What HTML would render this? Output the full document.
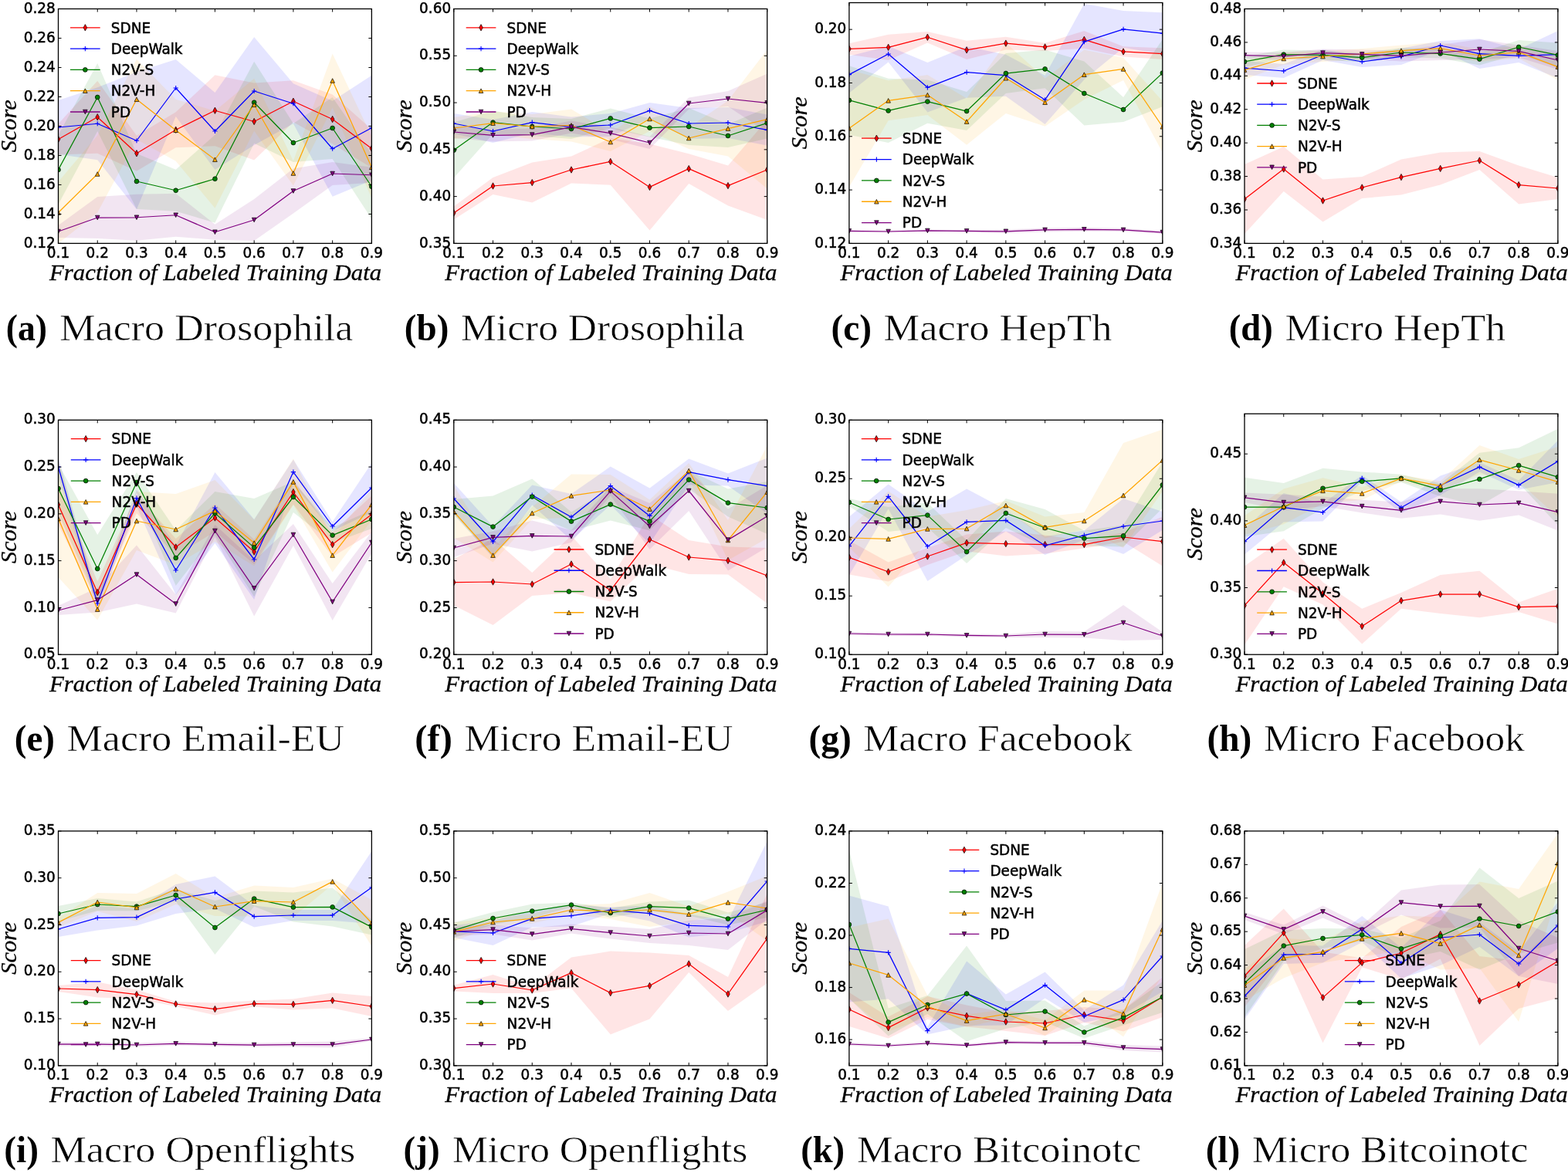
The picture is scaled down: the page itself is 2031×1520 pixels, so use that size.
<!DOCTYPE html>
<html><head><meta charset="utf-8"><style>
html,body{margin:0;padding:0;background:#fff;}
svg{display:block;}
.t{font-family:"DejaVu Sans",sans-serif;font-size:18.45px;fill:#000;stroke:#000;stroke-width:0.5px;}
.ax{font-family:"Liberation Serif",serif;font-style:italic;font-size:30px;fill:#000;stroke:#000;stroke-width:0.3px;}
.cap{font-family:"Liberation Serif",serif;font-size:48px;fill:#000;stroke:#fff;stroke-width:0.6px;}
.capb{font-family:"Liberation Serif",serif;font-size:48px;font-weight:bold;fill:#000;}
</style></head><body>
<svg width="2031" height="1520" viewBox="0 0 2031 1520">
<rect width="2031" height="1520" fill="#fff"/>
<clipPath id="clipa"><rect x="75.5" y="11.5" width="405.9" height="303.9"/></clipPath>
<g clip-path="url(#clipa)">
<path d="M75.5 160.5L126.24 104.75L176.97 175.75L227.71 145.25L278.45 97.25L329.19 107.5L379.92 104.25L430.66 122.5L481.4 167.5L481.4 217.5L430.66 186.5L379.92 158.25L329.19 207.5L278.45 189.25L227.71 191.25L176.97 221.75L126.24 198.75L75.5 200.5Z" fill="#ff0000" fill-opacity="0.1"/>
<path d="M75.5 130L126.24 113.25L176.97 93.25L227.71 77L278.45 120L329.19 48L379.92 108.25L430.66 130.75L481.4 97.75L481.4 233.75L430.66 254.75L379.92 160.25L329.19 188L278.45 220L227.71 151L176.97 271.25L126.24 207.25L75.5 200Z" fill="#0000ff" fill-opacity="0.1"/>
<path d="M75.5 175L126.24 82L176.97 199L227.71 219.75L278.45 174.75L329.19 79.75L379.92 160L430.66 126L481.4 199.75L481.4 283.75L430.66 206L379.92 210L329.19 185.75L278.45 288.75L227.71 273.75L176.97 271L126.24 170L75.5 265Z" fill="#008000" fill-opacity="0.1"/>
<path d="M75.5 235.5L126.24 175.5L176.97 76.75L227.71 128.75L278.45 143.75L329.19 101.75L379.92 208.5L430.66 69.5L481.4 176.75L481.4 256.75L430.66 139.5L379.92 240.5L329.19 169.75L278.45 269.75L227.71 208.75L176.97 180.75L126.24 275.5L75.5 315.5Z" fill="#ffa500" fill-opacity="0.1"/>
<path d="M75.5 292L126.24 255L176.97 251.75L227.71 250.75L278.45 290.75L329.19 258L379.92 218.5L430.66 210L481.4 216.75L481.4 236.75L430.66 240L379.92 276.5L329.19 312L278.45 310.75L227.71 306.75L176.97 311.75L126.24 309L75.5 308Z" fill="#800080" fill-opacity="0.1"/>
<path d="M75.5 180.5L126.24 151.75L176.97 198.75L227.71 168.25L278.45 143.25L329.19 157.5L379.92 131.25L430.66 154.5L481.4 192.5" fill="none" stroke="#ff0000" stroke-width="1.25" stroke-linejoin="round"/>
<path d="M75.5 176.3L77.8 180.5L75.5 184.7L73.2 180.5Z" fill="#ff0000" stroke="#000" stroke-width="0.7"/>
<path d="M126.24 147.55L128.54 151.75L126.24 155.95L123.94 151.75Z" fill="#ff0000" stroke="#000" stroke-width="0.7"/>
<path d="M176.97 194.55L179.28 198.75L176.97 202.95L174.67 198.75Z" fill="#ff0000" stroke="#000" stroke-width="0.7"/>
<path d="M227.71 164.05L230.01 168.25L227.71 172.45L225.41 168.25Z" fill="#ff0000" stroke="#000" stroke-width="0.7"/>
<path d="M278.45 139.05L280.75 143.25L278.45 147.45L276.15 143.25Z" fill="#ff0000" stroke="#000" stroke-width="0.7"/>
<path d="M329.19 153.3L331.49 157.5L329.19 161.7L326.89 157.5Z" fill="#ff0000" stroke="#000" stroke-width="0.7"/>
<path d="M379.92 127.05L382.22 131.25L379.92 135.45L377.62 131.25Z" fill="#ff0000" stroke="#000" stroke-width="0.7"/>
<path d="M430.66 150.3L432.96 154.5L430.66 158.7L428.36 154.5Z" fill="#ff0000" stroke="#000" stroke-width="0.7"/>
<path d="M481.4 188.3L483.7 192.5L481.4 196.7L479.1 192.5Z" fill="#ff0000" stroke="#000" stroke-width="0.7"/>
<path d="M75.5 165L126.24 160.25L176.97 182.25L227.71 114L278.45 170L329.19 118L379.92 134.25L430.66 192.75L481.4 165.75" fill="none" stroke="#0000ff" stroke-width="1.25" stroke-linejoin="round"/>
<path d="M72.4 165H78.6M75.5 161.9V168.1" stroke="#0000ff" stroke-width="1.1" fill="none"/>
<path d="M123.14 160.25H129.34M126.24 157.15V163.35" stroke="#0000ff" stroke-width="1.1" fill="none"/>
<path d="M173.88 182.25H180.07M176.97 179.15V185.35" stroke="#0000ff" stroke-width="1.1" fill="none"/>
<path d="M224.61 114H230.81M227.71 110.9V117.1" stroke="#0000ff" stroke-width="1.1" fill="none"/>
<path d="M275.35 170H281.55M278.45 166.9V173.1" stroke="#0000ff" stroke-width="1.1" fill="none"/>
<path d="M326.09 118H332.29M329.19 114.9V121.1" stroke="#0000ff" stroke-width="1.1" fill="none"/>
<path d="M376.82 134.25H383.02M379.92 131.15V137.35" stroke="#0000ff" stroke-width="1.1" fill="none"/>
<path d="M427.56 192.75H433.76M430.66 189.65V195.85" stroke="#0000ff" stroke-width="1.1" fill="none"/>
<path d="M478.3 165.75H484.5M481.4 162.65V168.85" stroke="#0000ff" stroke-width="1.1" fill="none"/>
<path d="M75.5 220L126.24 126L176.97 235L227.71 246.75L278.45 231.75L329.19 132.75L379.92 185L430.66 166L481.4 241.75" fill="none" stroke="#008000" stroke-width="1.25" stroke-linejoin="round"/>
<circle cx="75.5" cy="220" r="2.9" fill="#008000" stroke="#000" stroke-width="0.7"/>
<circle cx="126.24" cy="126" r="2.9" fill="#008000" stroke="#000" stroke-width="0.7"/>
<circle cx="176.97" cy="235" r="2.9" fill="#008000" stroke="#000" stroke-width="0.7"/>
<circle cx="227.71" cy="246.75" r="2.9" fill="#008000" stroke="#000" stroke-width="0.7"/>
<circle cx="278.45" cy="231.75" r="2.9" fill="#008000" stroke="#000" stroke-width="0.7"/>
<circle cx="329.19" cy="132.75" r="2.9" fill="#008000" stroke="#000" stroke-width="0.7"/>
<circle cx="379.92" cy="185" r="2.9" fill="#008000" stroke="#000" stroke-width="0.7"/>
<circle cx="430.66" cy="166" r="2.9" fill="#008000" stroke="#000" stroke-width="0.7"/>
<circle cx="481.4" cy="241.75" r="2.9" fill="#008000" stroke="#000" stroke-width="0.7"/>
<path d="M75.5 275.5L126.24 225.5L176.97 128.75L227.71 168.75L278.45 206.75L329.19 135.75L379.92 224.5L430.66 104.5L481.4 216.75" fill="none" stroke="#ffa500" stroke-width="1.25" stroke-linejoin="round"/>
<path d="M75.5 272.7L78.3 278.3L72.7 278.3Z" fill="#ffa500" stroke="#000" stroke-width="0.7"/>
<path d="M126.24 222.7L129.04 228.3L123.44 228.3Z" fill="#ffa500" stroke="#000" stroke-width="0.7"/>
<path d="M176.97 125.95L179.78 131.55L174.17 131.55Z" fill="#ffa500" stroke="#000" stroke-width="0.7"/>
<path d="M227.71 165.95L230.51 171.55L224.91 171.55Z" fill="#ffa500" stroke="#000" stroke-width="0.7"/>
<path d="M278.45 203.95L281.25 209.55L275.65 209.55Z" fill="#ffa500" stroke="#000" stroke-width="0.7"/>
<path d="M329.19 132.95L331.99 138.55L326.39 138.55Z" fill="#ffa500" stroke="#000" stroke-width="0.7"/>
<path d="M379.92 221.7L382.72 227.3L377.12 227.3Z" fill="#ffa500" stroke="#000" stroke-width="0.7"/>
<path d="M430.66 101.7L433.46 107.3L427.86 107.3Z" fill="#ffa500" stroke="#000" stroke-width="0.7"/>
<path d="M481.4 213.95L484.2 219.55L478.6 219.55Z" fill="#ffa500" stroke="#000" stroke-width="0.7"/>
<path d="M75.5 300L126.24 282L176.97 281.75L227.71 278.75L278.45 300.75L329.19 285L379.92 247.5L430.66 225L481.4 226.75" fill="none" stroke="#800080" stroke-width="1.25" stroke-linejoin="round"/>
<path d="M75.5 302.8L78.3 297.2L72.7 297.2Z" fill="#800080" stroke="#000" stroke-width="0.7"/>
<path d="M126.24 284.8L129.04 279.2L123.44 279.2Z" fill="#800080" stroke="#000" stroke-width="0.7"/>
<path d="M176.97 284.55L179.78 278.95L174.17 278.95Z" fill="#800080" stroke="#000" stroke-width="0.7"/>
<path d="M227.71 281.55L230.51 275.95L224.91 275.95Z" fill="#800080" stroke="#000" stroke-width="0.7"/>
<path d="M278.45 303.55L281.25 297.95L275.65 297.95Z" fill="#800080" stroke="#000" stroke-width="0.7"/>
<path d="M329.19 287.8L331.99 282.2L326.39 282.2Z" fill="#800080" stroke="#000" stroke-width="0.7"/>
<path d="M379.92 250.3L382.72 244.7L377.12 244.7Z" fill="#800080" stroke="#000" stroke-width="0.7"/>
<path d="M430.66 227.8L433.46 222.2L427.86 222.2Z" fill="#800080" stroke="#000" stroke-width="0.7"/>
<path d="M481.4 229.55L484.2 223.95L478.6 223.95Z" fill="#800080" stroke="#000" stroke-width="0.7"/>
</g>
<path d="M91 35.8H129.7" stroke="#ff0000" stroke-width="1.3"/>
<path d="M110.35 31.6L112.65 35.8L110.35 40L108.05 35.8Z" fill="#ff0000" stroke="#000" stroke-width="0.7"/>
<text transform="translate(143.8,42.5) scale(1,1.035)" class="t">SDNE</text>
<path d="M91 63.1H129.7" stroke="#0000ff" stroke-width="1.3"/>
<path d="M107.25 63.1H113.45M110.35 60V66.2" stroke="#0000ff" stroke-width="1.1" fill="none"/>
<text transform="translate(143.8,69.8) scale(1,1.035)" class="t">DeepWalk</text>
<path d="M91 90.4H129.7" stroke="#008000" stroke-width="1.3"/>
<circle cx="110.35" cy="90.4" r="2.9" fill="#008000" stroke="#000" stroke-width="0.7"/>
<text transform="translate(143.8,97.1) scale(1,1.035)" class="t">N2V-S</text>
<path d="M91 117.7H129.7" stroke="#ffa500" stroke-width="1.3"/>
<path d="M110.35 114.9L113.15 120.5L107.55 120.5Z" fill="#ffa500" stroke="#000" stroke-width="0.7"/>
<text transform="translate(143.8,124.4) scale(1,1.035)" class="t">N2V-H</text>
<path d="M91 145H129.7" stroke="#800080" stroke-width="1.3"/>
<path d="M110.35 147.8L113.15 142.2L107.55 142.2Z" fill="#800080" stroke="#000" stroke-width="0.7"/>
<text transform="translate(143.8,151.7) scale(1,1.035)" class="t">PD</text>
<rect x="75.5" y="11.5" width="405.9" height="303.9" fill="none" stroke="#000" stroke-width="1.3"/>
<text transform="translate(71.85,320.5) scale(1,1.035)" class="t" text-anchor="end">0.12</text>
<text transform="translate(71.85,282.51) scale(1,1.035)" class="t" text-anchor="end">0.14</text>
<text transform="translate(71.85,244.52) scale(1,1.035)" class="t" text-anchor="end">0.16</text>
<text transform="translate(71.85,206.54) scale(1,1.035)" class="t" text-anchor="end">0.18</text>
<text transform="translate(71.85,168.55) scale(1,1.035)" class="t" text-anchor="end">0.20</text>
<text transform="translate(71.85,130.56) scale(1,1.035)" class="t" text-anchor="end">0.22</text>
<text transform="translate(71.85,92.58) scale(1,1.035)" class="t" text-anchor="end">0.24</text>
<text transform="translate(71.85,54.59) scale(1,1.035)" class="t" text-anchor="end">0.26</text>
<text transform="translate(71.85,16.6) scale(1,1.035)" class="t" text-anchor="end">0.28</text>
<path d="M75.5 315.4V311.4M75.5 11.5V15.5M126.24 315.4V311.4M126.24 11.5V15.5M176.97 315.4V311.4M176.97 11.5V15.5M227.71 315.4V311.4M227.71 11.5V15.5M278.45 315.4V311.4M278.45 11.5V15.5M329.19 315.4V311.4M329.19 11.5V15.5M379.92 315.4V311.4M379.92 11.5V15.5M430.66 315.4V311.4M430.66 11.5V15.5M481.4 315.4V311.4M481.4 11.5V15.5M75.5 315.4H79.5M481.4 315.4H477.4M75.5 277.41H79.5M481.4 277.41H477.4M75.5 239.42H79.5M481.4 239.42H477.4M75.5 201.44H79.5M481.4 201.44H477.4M75.5 163.45H79.5M481.4 163.45H477.4M75.5 125.46H79.5M481.4 125.46H477.4M75.5 87.48H79.5M481.4 87.48H477.4M75.5 49.49H79.5M481.4 49.49H477.4M75.5 11.5H79.5M481.4 11.5H477.4" stroke="#000" stroke-width="1.0" fill="none"/>
<text transform="translate(75.5,333.9) scale(1,1.035)" class="t" text-anchor="middle">0.1</text>
<text transform="translate(126.24,333.9) scale(1,1.035)" class="t" text-anchor="middle">0.2</text>
<text transform="translate(176.97,333.9) scale(1,1.035)" class="t" text-anchor="middle">0.3</text>
<text transform="translate(227.71,333.9) scale(1,1.035)" class="t" text-anchor="middle">0.4</text>
<text transform="translate(278.45,333.9) scale(1,1.035)" class="t" text-anchor="middle">0.5</text>
<text transform="translate(329.19,333.9) scale(1,1.035)" class="t" text-anchor="middle">0.6</text>
<text transform="translate(379.92,333.9) scale(1,1.035)" class="t" text-anchor="middle">0.7</text>
<text transform="translate(430.66,333.9) scale(1,1.035)" class="t" text-anchor="middle">0.8</text>
<text transform="translate(481.4,333.9) scale(1,1.035)" class="t" text-anchor="middle">0.9</text>
<text x="64.02" y="362.7" class="ax" textLength="430.24" lengthAdjust="spacingAndGlyphs">Fraction of Labeled Training Data</text>
<text x="-0.35" y="0" class="ax" textLength="67.92" lengthAdjust="spacingAndGlyphs" transform="translate(20.7,196.9) rotate(-90)">Score</text>
<text x="7.79" y="441.2" class="capb" textLength="53.32" lengthAdjust="spacingAndGlyphs">(a)</text>
<text x="77.3" y="441.2" class="cap" textLength="380.11" lengthAdjust="spacingAndGlyphs">Macro Drosophila</text>
<clipPath id="clipb"><rect x="587.8" y="11.5" width="405.9" height="303.9"/></clipPath>
<g clip-path="url(#clipb)">
<path d="M587.8 267.4L638.54 230L689.27 210.6L740.01 202.6L790.75 179L841.49 186.4L892.22 199.2L942.96 214.6L993.7 155L993.7 285L942.96 266.6L892.22 238L841.49 298.4L790.75 239.8L740.01 237.4L689.27 262.6L638.54 252L587.8 284.6Z" fill="#ff0000" fill-opacity="0.1"/>
<path d="M587.8 147L638.54 155L689.27 145L740.01 151.6L790.75 147L841.49 133L892.22 140L942.96 139L993.7 148.4L993.7 188.4L942.96 179L892.22 180L841.49 153.8L790.75 177L740.01 177.6L689.27 172.2L638.54 185L587.8 173Z" fill="#0000ff" fill-opacity="0.1"/>
<path d="M587.8 158.6L638.54 143.6L689.27 152L740.01 154L790.75 140.4L841.49 153.6L892.22 140L942.96 161L993.7 139.4L993.7 179.4L942.96 191L892.22 188L841.49 177.6L790.75 166.4L740.01 180L689.27 176L638.54 173.6L587.8 230.6Z" fill="#008000" fill-opacity="0.1"/>
<path d="M587.8 152L638.54 144.6L689.27 148L740.01 141.4L790.75 172L841.49 138L892.22 165L942.96 130.6L993.7 64.6L993.7 244.6L942.96 202.6L892.22 193L841.49 170L790.75 196L740.01 183.4L689.27 180L638.54 174.6L587.8 180Z" fill="#ffa500" fill-opacity="0.1"/>
<path d="M587.8 163L638.54 167.4L689.27 166.6L740.01 156.6L790.75 164.6L841.49 177L892.22 126.6L942.96 118L993.7 95.4L993.7 171.4L942.96 138L892.22 141.4L841.49 193L790.75 180.6L740.01 172.6L689.27 182.6L638.54 183.4L587.8 179Z" fill="#800080" fill-opacity="0.1"/>
<path d="M587.8 276L638.54 241L689.27 236.6L740.01 220L790.75 209.4L841.49 242.4L892.22 218.6L942.96 240.6L993.7 220" fill="none" stroke="#ff0000" stroke-width="1.25" stroke-linejoin="round"/>
<path d="M587.8 271.8L590.1 276L587.8 280.2L585.5 276Z" fill="#ff0000" stroke="#000" stroke-width="0.7"/>
<path d="M638.54 236.8L640.84 241L638.54 245.2L636.24 241Z" fill="#ff0000" stroke="#000" stroke-width="0.7"/>
<path d="M689.27 232.4L691.57 236.6L689.27 240.8L686.98 236.6Z" fill="#ff0000" stroke="#000" stroke-width="0.7"/>
<path d="M740.01 215.8L742.31 220L740.01 224.2L737.71 220Z" fill="#ff0000" stroke="#000" stroke-width="0.7"/>
<path d="M790.75 205.2L793.05 209.4L790.75 213.6L788.45 209.4Z" fill="#ff0000" stroke="#000" stroke-width="0.7"/>
<path d="M841.49 238.2L843.79 242.4L841.49 246.6L839.19 242.4Z" fill="#ff0000" stroke="#000" stroke-width="0.7"/>
<path d="M892.22 214.4L894.52 218.6L892.22 222.8L889.92 218.6Z" fill="#ff0000" stroke="#000" stroke-width="0.7"/>
<path d="M942.96 236.4L945.26 240.6L942.96 244.8L940.66 240.6Z" fill="#ff0000" stroke="#000" stroke-width="0.7"/>
<path d="M993.7 215.8L996 220L993.7 224.2L991.4 220Z" fill="#ff0000" stroke="#000" stroke-width="0.7"/>
<path d="M587.8 160L638.54 170L689.27 158.6L740.01 164.6L790.75 162L841.49 143.4L892.22 160L942.96 159L993.7 168.4" fill="none" stroke="#0000ff" stroke-width="1.25" stroke-linejoin="round"/>
<path d="M584.7 160H590.9M587.8 156.9V163.1" stroke="#0000ff" stroke-width="1.1" fill="none"/>
<path d="M635.44 170H641.64M638.54 166.9V173.1" stroke="#0000ff" stroke-width="1.1" fill="none"/>
<path d="M686.17 158.6H692.38M689.27 155.5V161.7" stroke="#0000ff" stroke-width="1.1" fill="none"/>
<path d="M736.91 164.6H743.11M740.01 161.5V167.7" stroke="#0000ff" stroke-width="1.1" fill="none"/>
<path d="M787.65 162H793.85M790.75 158.9V165.1" stroke="#0000ff" stroke-width="1.1" fill="none"/>
<path d="M838.39 143.4H844.59M841.49 140.3V146.5" stroke="#0000ff" stroke-width="1.1" fill="none"/>
<path d="M889.12 160H895.32M892.22 156.9V163.1" stroke="#0000ff" stroke-width="1.1" fill="none"/>
<path d="M939.86 159H946.06M942.96 155.9V162.1" stroke="#0000ff" stroke-width="1.1" fill="none"/>
<path d="M990.6 168.4H996.8M993.7 165.3V171.5" stroke="#0000ff" stroke-width="1.1" fill="none"/>
<path d="M587.8 194.6L638.54 158.6L689.27 164L740.01 167L790.75 153.4L841.49 165.6L892.22 164L942.96 176L993.7 159.4" fill="none" stroke="#008000" stroke-width="1.25" stroke-linejoin="round"/>
<circle cx="587.8" cy="194.6" r="2.9" fill="#008000" stroke="#000" stroke-width="0.7"/>
<circle cx="638.54" cy="158.6" r="2.9" fill="#008000" stroke="#000" stroke-width="0.7"/>
<circle cx="689.27" cy="164" r="2.9" fill="#008000" stroke="#000" stroke-width="0.7"/>
<circle cx="740.01" cy="167" r="2.9" fill="#008000" stroke="#000" stroke-width="0.7"/>
<circle cx="790.75" cy="153.4" r="2.9" fill="#008000" stroke="#000" stroke-width="0.7"/>
<circle cx="841.49" cy="165.6" r="2.9" fill="#008000" stroke="#000" stroke-width="0.7"/>
<circle cx="892.22" cy="164" r="2.9" fill="#008000" stroke="#000" stroke-width="0.7"/>
<circle cx="942.96" cy="176" r="2.9" fill="#008000" stroke="#000" stroke-width="0.7"/>
<circle cx="993.7" cy="159.4" r="2.9" fill="#008000" stroke="#000" stroke-width="0.7"/>
<path d="M587.8 166L638.54 159.6L689.27 164L740.01 162.4L790.75 184L841.49 154L892.22 179L942.96 166.6L993.7 154.6" fill="none" stroke="#ffa500" stroke-width="1.25" stroke-linejoin="round"/>
<path d="M587.8 163.2L590.6 168.8L585 168.8Z" fill="#ffa500" stroke="#000" stroke-width="0.7"/>
<path d="M638.54 156.8L641.34 162.4L635.74 162.4Z" fill="#ffa500" stroke="#000" stroke-width="0.7"/>
<path d="M689.27 161.2L692.07 166.8L686.48 166.8Z" fill="#ffa500" stroke="#000" stroke-width="0.7"/>
<path d="M740.01 159.6L742.81 165.2L737.21 165.2Z" fill="#ffa500" stroke="#000" stroke-width="0.7"/>
<path d="M790.75 181.2L793.55 186.8L787.95 186.8Z" fill="#ffa500" stroke="#000" stroke-width="0.7"/>
<path d="M841.49 151.2L844.29 156.8L838.69 156.8Z" fill="#ffa500" stroke="#000" stroke-width="0.7"/>
<path d="M892.22 176.2L895.02 181.8L889.42 181.8Z" fill="#ffa500" stroke="#000" stroke-width="0.7"/>
<path d="M942.96 163.8L945.76 169.4L940.16 169.4Z" fill="#ffa500" stroke="#000" stroke-width="0.7"/>
<path d="M993.7 151.8L996.5 157.4L990.9 157.4Z" fill="#ffa500" stroke="#000" stroke-width="0.7"/>
<path d="M587.8 171L638.54 175.4L689.27 174.6L740.01 164.6L790.75 172.6L841.49 185L892.22 134L942.96 128L993.7 133.4" fill="none" stroke="#800080" stroke-width="1.25" stroke-linejoin="round"/>
<path d="M587.8 173.8L590.6 168.2L585 168.2Z" fill="#800080" stroke="#000" stroke-width="0.7"/>
<path d="M638.54 178.2L641.34 172.6L635.74 172.6Z" fill="#800080" stroke="#000" stroke-width="0.7"/>
<path d="M689.27 177.4L692.07 171.8L686.48 171.8Z" fill="#800080" stroke="#000" stroke-width="0.7"/>
<path d="M740.01 167.4L742.81 161.8L737.21 161.8Z" fill="#800080" stroke="#000" stroke-width="0.7"/>
<path d="M790.75 175.4L793.55 169.8L787.95 169.8Z" fill="#800080" stroke="#000" stroke-width="0.7"/>
<path d="M841.49 187.8L844.29 182.2L838.69 182.2Z" fill="#800080" stroke="#000" stroke-width="0.7"/>
<path d="M892.22 136.8L895.02 131.2L889.42 131.2Z" fill="#800080" stroke="#000" stroke-width="0.7"/>
<path d="M942.96 130.8L945.76 125.2L940.16 125.2Z" fill="#800080" stroke="#000" stroke-width="0.7"/>
<path d="M993.7 136.2L996.5 130.6L990.9 130.6Z" fill="#800080" stroke="#000" stroke-width="0.7"/>
</g>
<path d="M603.7 35.8H642.4" stroke="#ff0000" stroke-width="1.3"/>
<path d="M623.05 31.6L625.35 35.8L623.05 40L620.75 35.8Z" fill="#ff0000" stroke="#000" stroke-width="0.7"/>
<text transform="translate(656.5,42.5) scale(1,1.035)" class="t">SDNE</text>
<path d="M603.7 63.1H642.4" stroke="#0000ff" stroke-width="1.3"/>
<path d="M619.95 63.1H626.15M623.05 60V66.2" stroke="#0000ff" stroke-width="1.1" fill="none"/>
<text transform="translate(656.5,69.8) scale(1,1.035)" class="t">DeepWalk</text>
<path d="M603.7 90.4H642.4" stroke="#008000" stroke-width="1.3"/>
<circle cx="623.05" cy="90.4" r="2.9" fill="#008000" stroke="#000" stroke-width="0.7"/>
<text transform="translate(656.5,97.1) scale(1,1.035)" class="t">N2V-S</text>
<path d="M603.7 117.7H642.4" stroke="#ffa500" stroke-width="1.3"/>
<path d="M623.05 114.9L625.85 120.5L620.25 120.5Z" fill="#ffa500" stroke="#000" stroke-width="0.7"/>
<text transform="translate(656.5,124.4) scale(1,1.035)" class="t">N2V-H</text>
<path d="M603.7 145H642.4" stroke="#800080" stroke-width="1.3"/>
<path d="M623.05 147.8L625.85 142.2L620.25 142.2Z" fill="#800080" stroke="#000" stroke-width="0.7"/>
<text transform="translate(656.5,151.7) scale(1,1.035)" class="t">PD</text>
<rect x="587.8" y="11.5" width="405.9" height="303.9" fill="none" stroke="#000" stroke-width="1.3"/>
<text transform="translate(584.15,320.5) scale(1,1.035)" class="t" text-anchor="end">0.35</text>
<text transform="translate(584.15,259.72) scale(1,1.035)" class="t" text-anchor="end">0.40</text>
<text transform="translate(584.15,198.94) scale(1,1.035)" class="t" text-anchor="end">0.45</text>
<text transform="translate(584.15,138.16) scale(1,1.035)" class="t" text-anchor="end">0.50</text>
<text transform="translate(584.15,77.38) scale(1,1.035)" class="t" text-anchor="end">0.55</text>
<text transform="translate(584.15,16.6) scale(1,1.035)" class="t" text-anchor="end">0.60</text>
<path d="M587.8 315.4V311.4M587.8 11.5V15.5M638.54 315.4V311.4M638.54 11.5V15.5M689.27 315.4V311.4M689.27 11.5V15.5M740.01 315.4V311.4M740.01 11.5V15.5M790.75 315.4V311.4M790.75 11.5V15.5M841.49 315.4V311.4M841.49 11.5V15.5M892.22 315.4V311.4M892.22 11.5V15.5M942.96 315.4V311.4M942.96 11.5V15.5M993.7 315.4V311.4M993.7 11.5V15.5M587.8 315.4H591.8M993.7 315.4H989.7M587.8 254.62H591.8M993.7 254.62H989.7M587.8 193.84H591.8M993.7 193.84H989.7M587.8 133.06H591.8M993.7 133.06H989.7M587.8 72.28H591.8M993.7 72.28H989.7M587.8 11.5H591.8M993.7 11.5H989.7" stroke="#000" stroke-width="1.0" fill="none"/>
<text transform="translate(587.8,333.9) scale(1,1.035)" class="t" text-anchor="middle">0.1</text>
<text transform="translate(638.54,333.9) scale(1,1.035)" class="t" text-anchor="middle">0.2</text>
<text transform="translate(689.27,333.9) scale(1,1.035)" class="t" text-anchor="middle">0.3</text>
<text transform="translate(740.01,333.9) scale(1,1.035)" class="t" text-anchor="middle">0.4</text>
<text transform="translate(790.75,333.9) scale(1,1.035)" class="t" text-anchor="middle">0.5</text>
<text transform="translate(841.49,333.9) scale(1,1.035)" class="t" text-anchor="middle">0.6</text>
<text transform="translate(892.22,333.9) scale(1,1.035)" class="t" text-anchor="middle">0.7</text>
<text transform="translate(942.96,333.9) scale(1,1.035)" class="t" text-anchor="middle">0.8</text>
<text transform="translate(993.7,333.9) scale(1,1.035)" class="t" text-anchor="middle">0.9</text>
<text x="576.32" y="362.7" class="ax" textLength="430.24" lengthAdjust="spacingAndGlyphs">Fraction of Labeled Training Data</text>
<text x="-0.35" y="0" class="ax" textLength="67.92" lengthAdjust="spacingAndGlyphs" transform="translate(533,196.9) rotate(-90)">Score</text>
<text x="523.83" y="441.2" class="capb" textLength="57.54" lengthAdjust="spacingAndGlyphs">(b)</text>
<text x="597.02" y="441.2" class="cap" textLength="367.69" lengthAdjust="spacingAndGlyphs">Micro Drosophila</text>
<clipPath id="clipc"><rect x="1099.9" y="3.5" width="405.9" height="311.9"/></clipPath>
<g clip-path="url(#clipc)">
<path d="M1099.9 56.13L1150.64 44.7L1201.38 40.95L1252.11 52.8L1302.85 47.81L1353.59 55.71L1404.33 39.92L1455.06 60.29L1505.8 62.37L1505.8 76.93L1455.06 73.59L1404.33 62.78L1353.59 66.11L1302.85 64.45L1252.11 76.92L1201.38 55.51L1150.64 77.96L1099.9 70.69Z" fill="#ff0000" fill-opacity="0.1"/>
<path d="M1099.9 72.76L1150.64 59.66L1201.38 81.09L1252.11 60.3L1302.85 70.68L1353.59 97.71L1404.33 4.78L1455.06 13.93L1505.8 16.21L1505.8 70.27L1455.06 61.75L1404.33 103.32L1353.59 160.91L1302.85 124.74L1252.11 126.82L1201.38 145.53L1150.64 80.46L1099.9 120.58Z" fill="#0000ff" fill-opacity="0.1"/>
<path d="M1099.9 85.24L1150.64 101.87L1201.38 103.53L1252.11 119.12L1302.85 69.02L1353.59 64.45L1404.33 79.42L1455.06 125.99L1505.8 50.93L1505.8 138.25L1455.06 158.01L1404.33 162.58L1353.59 114.35L1302.85 121L1252.11 169.02L1201.38 159.67L1150.64 185.03L1099.9 174.64Z" fill="#008000" fill-opacity="0.1"/>
<path d="M1099.9 90.44L1150.64 104.36L1201.38 97.09L1252.11 127.44L1302.85 55.51L1353.59 101.45L1404.33 64.45L1455.06 74.85L1505.8 130.98L1505.8 197.5L1455.06 103.95L1404.33 128.89L1353.59 163.83L1302.85 146.99L1252.11 187.74L1201.38 149.07L1150.64 156.34L1099.9 242.2Z" fill="#ffa500" fill-opacity="0.1"/>
<path d="M1099.9 298.13L1150.64 298.75L1201.38 297.71L1252.11 297.72L1302.85 297.3L1353.59 295.43L1404.33 294.81L1455.06 295.84L1505.8 298.96L1505.8 303.12L1455.06 300L1404.33 299.79L1353.59 300.41L1302.85 302.28L1252.11 301.04L1201.38 300.21L1150.64 301.25L1099.9 300.63Z" fill="#800080" fill-opacity="0.1"/>
<path d="M1099.9 63.41L1150.64 61.33L1201.38 48.23L1252.11 64.86L1302.85 56.13L1353.59 60.91L1404.33 51.35L1455.06 66.94L1505.8 69.65" fill="none" stroke="#ff0000" stroke-width="1.25" stroke-linejoin="round"/>
<path d="M1099.9 59.21L1102.2 63.41L1099.9 67.61L1097.6 63.41Z" fill="#ff0000" stroke="#000" stroke-width="0.7"/>
<path d="M1150.64 57.13L1152.94 61.33L1150.64 65.53L1148.34 61.33Z" fill="#ff0000" stroke="#000" stroke-width="0.7"/>
<path d="M1201.38 44.03L1203.67 48.23L1201.38 52.43L1199.08 48.23Z" fill="#ff0000" stroke="#000" stroke-width="0.7"/>
<path d="M1252.11 60.66L1254.41 64.86L1252.11 69.06L1249.81 64.86Z" fill="#ff0000" stroke="#000" stroke-width="0.7"/>
<path d="M1302.85 51.93L1305.15 56.13L1302.85 60.33L1300.55 56.13Z" fill="#ff0000" stroke="#000" stroke-width="0.7"/>
<path d="M1353.59 56.71L1355.89 60.91L1353.59 65.11L1351.29 60.91Z" fill="#ff0000" stroke="#000" stroke-width="0.7"/>
<path d="M1404.33 47.15L1406.62 51.35L1404.33 55.55L1402.03 51.35Z" fill="#ff0000" stroke="#000" stroke-width="0.7"/>
<path d="M1455.06 62.74L1457.36 66.94L1455.06 71.14L1452.76 66.94Z" fill="#ff0000" stroke="#000" stroke-width="0.7"/>
<path d="M1505.8 65.45L1508.1 69.65L1505.8 73.85L1503.5 69.65Z" fill="#ff0000" stroke="#000" stroke-width="0.7"/>
<path d="M1099.9 96.67L1150.64 70.06L1201.38 113.31L1252.11 93.56L1302.85 97.71L1353.59 129.31L1404.33 54.05L1455.06 37.84L1505.8 43.24" fill="none" stroke="#0000ff" stroke-width="1.25" stroke-linejoin="round"/>
<path d="M1096.8 96.67H1103M1099.9 93.57V99.77" stroke="#0000ff" stroke-width="1.1" fill="none"/>
<path d="M1147.54 70.06H1153.74M1150.64 66.96V73.16" stroke="#0000ff" stroke-width="1.1" fill="none"/>
<path d="M1198.28 113.31H1204.47M1201.38 110.21V116.41" stroke="#0000ff" stroke-width="1.1" fill="none"/>
<path d="M1249.01 93.56H1255.21M1252.11 90.46V96.66" stroke="#0000ff" stroke-width="1.1" fill="none"/>
<path d="M1299.75 97.71H1305.95M1302.85 94.61V100.81" stroke="#0000ff" stroke-width="1.1" fill="none"/>
<path d="M1350.49 129.31H1356.69M1353.59 126.21V132.41" stroke="#0000ff" stroke-width="1.1" fill="none"/>
<path d="M1401.23 54.05H1407.42M1404.33 50.95V57.15" stroke="#0000ff" stroke-width="1.1" fill="none"/>
<path d="M1451.96 37.84H1458.16M1455.06 34.74V40.94" stroke="#0000ff" stroke-width="1.1" fill="none"/>
<path d="M1502.7 43.24H1508.9M1505.8 40.14V46.34" stroke="#0000ff" stroke-width="1.1" fill="none"/>
<path d="M1099.9 129.94L1150.64 143.45L1201.38 131.6L1252.11 144.07L1302.85 95.01L1353.59 89.4L1404.33 121L1455.06 142L1505.8 94.59" fill="none" stroke="#008000" stroke-width="1.25" stroke-linejoin="round"/>
<circle cx="1099.9" cy="129.94" r="2.9" fill="#008000" stroke="#000" stroke-width="0.7"/>
<circle cx="1150.64" cy="143.45" r="2.9" fill="#008000" stroke="#000" stroke-width="0.7"/>
<circle cx="1201.38" cy="131.6" r="2.9" fill="#008000" stroke="#000" stroke-width="0.7"/>
<circle cx="1252.11" cy="144.07" r="2.9" fill="#008000" stroke="#000" stroke-width="0.7"/>
<circle cx="1302.85" cy="95.01" r="2.9" fill="#008000" stroke="#000" stroke-width="0.7"/>
<circle cx="1353.59" cy="89.4" r="2.9" fill="#008000" stroke="#000" stroke-width="0.7"/>
<circle cx="1404.33" cy="121" r="2.9" fill="#008000" stroke="#000" stroke-width="0.7"/>
<circle cx="1455.06" cy="142" r="2.9" fill="#008000" stroke="#000" stroke-width="0.7"/>
<circle cx="1505.8" cy="94.59" r="2.9" fill="#008000" stroke="#000" stroke-width="0.7"/>
<path d="M1099.9 166.32L1150.64 130.35L1201.38 123.08L1252.11 157.59L1302.85 101.25L1353.59 132.64L1404.33 96.67L1455.06 89.4L1505.8 164.24" fill="none" stroke="#ffa500" stroke-width="1.25" stroke-linejoin="round"/>
<path d="M1099.9 163.52L1102.7 169.12L1097.1 169.12Z" fill="#ffa500" stroke="#000" stroke-width="0.7"/>
<path d="M1150.64 127.55L1153.44 133.15L1147.84 133.15Z" fill="#ffa500" stroke="#000" stroke-width="0.7"/>
<path d="M1201.38 120.28L1204.17 125.88L1198.58 125.88Z" fill="#ffa500" stroke="#000" stroke-width="0.7"/>
<path d="M1252.11 154.79L1254.91 160.39L1249.31 160.39Z" fill="#ffa500" stroke="#000" stroke-width="0.7"/>
<path d="M1302.85 98.45L1305.65 104.05L1300.05 104.05Z" fill="#ffa500" stroke="#000" stroke-width="0.7"/>
<path d="M1353.59 129.84L1356.39 135.44L1350.79 135.44Z" fill="#ffa500" stroke="#000" stroke-width="0.7"/>
<path d="M1404.33 93.87L1407.12 99.47L1401.53 99.47Z" fill="#ffa500" stroke="#000" stroke-width="0.7"/>
<path d="M1455.06 86.6L1457.86 92.2L1452.26 92.2Z" fill="#ffa500" stroke="#000" stroke-width="0.7"/>
<path d="M1505.8 161.44L1508.6 167.04L1503 167.04Z" fill="#ffa500" stroke="#000" stroke-width="0.7"/>
<path d="M1099.9 299.38L1150.64 300L1201.38 298.96L1252.11 299.38L1302.85 299.79L1353.59 297.92L1404.33 297.3L1455.06 297.92L1505.8 301.04" fill="none" stroke="#800080" stroke-width="1.25" stroke-linejoin="round"/>
<path d="M1099.9 302.18L1102.7 296.58L1097.1 296.58Z" fill="#800080" stroke="#000" stroke-width="0.7"/>
<path d="M1150.64 302.8L1153.44 297.2L1147.84 297.2Z" fill="#800080" stroke="#000" stroke-width="0.7"/>
<path d="M1201.38 301.76L1204.17 296.16L1198.58 296.16Z" fill="#800080" stroke="#000" stroke-width="0.7"/>
<path d="M1252.11 302.18L1254.91 296.58L1249.31 296.58Z" fill="#800080" stroke="#000" stroke-width="0.7"/>
<path d="M1302.85 302.59L1305.65 296.99L1300.05 296.99Z" fill="#800080" stroke="#000" stroke-width="0.7"/>
<path d="M1353.59 300.72L1356.39 295.12L1350.79 295.12Z" fill="#800080" stroke="#000" stroke-width="0.7"/>
<path d="M1404.33 300.1L1407.12 294.5L1401.53 294.5Z" fill="#800080" stroke="#000" stroke-width="0.7"/>
<path d="M1455.06 300.72L1457.86 295.12L1452.26 295.12Z" fill="#800080" stroke="#000" stroke-width="0.7"/>
<path d="M1505.8 303.84L1508.6 298.24L1503 298.24Z" fill="#800080" stroke="#000" stroke-width="0.7"/>
</g>
<path d="M1116 179.2H1154.7" stroke="#ff0000" stroke-width="1.3"/>
<path d="M1135.35 175L1137.65 179.2L1135.35 183.4L1133.05 179.2Z" fill="#ff0000" stroke="#000" stroke-width="0.7"/>
<text transform="translate(1168.8,185.9) scale(1,1.035)" class="t">SDNE</text>
<path d="M1116 206.55H1154.7" stroke="#0000ff" stroke-width="1.3"/>
<path d="M1132.25 206.55H1138.45M1135.35 203.45V209.65" stroke="#0000ff" stroke-width="1.1" fill="none"/>
<text transform="translate(1168.8,213.25) scale(1,1.035)" class="t">DeepWalk</text>
<path d="M1116 233.9H1154.7" stroke="#008000" stroke-width="1.3"/>
<circle cx="1135.35" cy="233.9" r="2.9" fill="#008000" stroke="#000" stroke-width="0.7"/>
<text transform="translate(1168.8,240.6) scale(1,1.035)" class="t">N2V-S</text>
<path d="M1116 261.25H1154.7" stroke="#ffa500" stroke-width="1.3"/>
<path d="M1135.35 258.45L1138.15 264.05L1132.55 264.05Z" fill="#ffa500" stroke="#000" stroke-width="0.7"/>
<text transform="translate(1168.8,267.95) scale(1,1.035)" class="t">N2V-H</text>
<path d="M1116 288.6H1154.7" stroke="#800080" stroke-width="1.3"/>
<path d="M1135.35 291.4L1138.15 285.8L1132.55 285.8Z" fill="#800080" stroke="#000" stroke-width="0.7"/>
<text transform="translate(1168.8,295.3) scale(1,1.035)" class="t">PD</text>
<rect x="1099.9" y="3.5" width="405.9" height="311.9" fill="none" stroke="#000" stroke-width="1.3"/>
<text transform="translate(1096.25,320.5) scale(1,1.035)" class="t" text-anchor="end">0.12</text>
<text transform="translate(1096.25,251.19) scale(1,1.035)" class="t" text-anchor="end">0.14</text>
<text transform="translate(1096.25,181.88) scale(1,1.035)" class="t" text-anchor="end">0.16</text>
<text transform="translate(1096.25,112.57) scale(1,1.035)" class="t" text-anchor="end">0.18</text>
<text transform="translate(1096.25,43.26) scale(1,1.035)" class="t" text-anchor="end">0.20</text>
<path d="M1099.9 315.4V311.4M1099.9 3.5V7.5M1150.64 315.4V311.4M1150.64 3.5V7.5M1201.38 315.4V311.4M1201.38 3.5V7.5M1252.11 315.4V311.4M1252.11 3.5V7.5M1302.85 315.4V311.4M1302.85 3.5V7.5M1353.59 315.4V311.4M1353.59 3.5V7.5M1404.33 315.4V311.4M1404.33 3.5V7.5M1455.06 315.4V311.4M1455.06 3.5V7.5M1505.8 315.4V311.4M1505.8 3.5V7.5M1099.9 315.4H1103.9M1505.8 315.4H1501.8M1099.9 246.09H1103.9M1505.8 246.09H1501.8M1099.9 176.78H1103.9M1505.8 176.78H1501.8M1099.9 107.47H1103.9M1505.8 107.47H1501.8M1099.9 38.16H1103.9M1505.8 38.16H1501.8" stroke="#000" stroke-width="1.0" fill="none"/>
<text transform="translate(1099.9,333.9) scale(1,1.035)" class="t" text-anchor="middle">0.1</text>
<text transform="translate(1150.64,333.9) scale(1,1.035)" class="t" text-anchor="middle">0.2</text>
<text transform="translate(1201.38,333.9) scale(1,1.035)" class="t" text-anchor="middle">0.3</text>
<text transform="translate(1252.11,333.9) scale(1,1.035)" class="t" text-anchor="middle">0.4</text>
<text transform="translate(1302.85,333.9) scale(1,1.035)" class="t" text-anchor="middle">0.5</text>
<text transform="translate(1353.59,333.9) scale(1,1.035)" class="t" text-anchor="middle">0.6</text>
<text transform="translate(1404.33,333.9) scale(1,1.035)" class="t" text-anchor="middle">0.7</text>
<text transform="translate(1455.06,333.9) scale(1,1.035)" class="t" text-anchor="middle">0.8</text>
<text transform="translate(1505.8,333.9) scale(1,1.035)" class="t" text-anchor="middle">0.9</text>
<text x="1088.42" y="362.7" class="ax" textLength="430.24" lengthAdjust="spacingAndGlyphs">Fraction of Labeled Training Data</text>
<text x="-0.35" y="0" class="ax" textLength="67.92" lengthAdjust="spacingAndGlyphs" transform="translate(1045.1,192.9) rotate(-90)">Score</text>
<text x="1076.51" y="441.2" class="capb" textLength="52.67" lengthAdjust="spacingAndGlyphs">(c)</text>
<text x="1144.49" y="441.2" class="cap" textLength="295.9" lengthAdjust="spacingAndGlyphs">Macro HepTh</text>
<clipPath id="clipd"><rect x="1612" y="11.5" width="405.9" height="303.9"/></clipPath>
<g clip-path="url(#clipd)">
<path d="M1612 213L1662.74 190L1713.47 232.6L1764.21 229L1814.95 206.6L1865.69 197.4L1916.42 196L1967.16 214.6L2017.9 230L2017.9 258L1967.16 264.6L1916.42 220L1865.69 239.4L1814.95 252.6L1764.21 257L1713.47 287.4L1662.74 248L1612 303Z" fill="#ff0000" fill-opacity="0.1"/>
<path d="M1612 79L1662.74 83L1713.47 64L1764.21 73L1814.95 62.8L1865.69 53L1916.42 50.2L1967.16 63.8L2017.9 40L2017.9 101.2L1967.16 81L1916.42 89L1865.69 65L1814.95 84L1764.21 87L1713.47 78L1662.74 101L1612 97Z" fill="#0000ff" fill-opacity="0.1"/>
<path d="M1612 73L1662.74 64.6L1713.47 65.4L1764.21 68.6L1814.95 62L1865.69 63.4L1916.42 68.6L1967.16 52L2017.9 55.4L2017.9 87.4L1967.16 70L1916.42 84.6L1865.69 75.4L1814.95 74L1764.21 80.6L1713.47 77.4L1662.74 76.6L1612 87Z" fill="#008000" fill-opacity="0.1"/>
<path d="M1612 78.2L1662.74 68L1713.47 66L1764.21 63L1814.95 58.6L1865.69 54.6L1916.42 64L1967.16 59.6L2017.9 69.2L2017.9 104L1967.16 75.6L1916.42 80L1865.69 70.6L1814.95 72.6L1764.21 77L1713.47 80L1662.74 84L1612 103Z" fill="#ffa500" fill-opacity="0.1"/>
<path d="M1612 67.6L1662.74 68L1713.47 63.6L1764.21 64.4L1814.95 65.4L1865.69 58L1916.42 51L1967.16 58.4L2017.9 66L2017.9 90L1967.16 74.4L1916.42 77L1865.69 78L1814.95 79.4L1764.21 76.4L1713.47 73.6L1662.74 78L1612 75.6Z" fill="#800080" fill-opacity="0.1"/>
<path d="M1612 258L1662.74 219L1713.47 260L1764.21 243L1814.95 229.6L1865.69 218.4L1916.42 208L1967.16 239.6L2017.9 244" fill="none" stroke="#ff0000" stroke-width="1.25" stroke-linejoin="round"/>
<path d="M1612 253.8L1614.3 258L1612 262.2L1609.7 258Z" fill="#ff0000" stroke="#000" stroke-width="0.7"/>
<path d="M1662.74 214.8L1665.04 219L1662.74 223.2L1660.44 219Z" fill="#ff0000" stroke="#000" stroke-width="0.7"/>
<path d="M1713.47 255.8L1715.77 260L1713.47 264.2L1711.17 260Z" fill="#ff0000" stroke="#000" stroke-width="0.7"/>
<path d="M1764.21 238.8L1766.51 243L1764.21 247.2L1761.91 243Z" fill="#ff0000" stroke="#000" stroke-width="0.7"/>
<path d="M1814.95 225.4L1817.25 229.6L1814.95 233.8L1812.65 229.6Z" fill="#ff0000" stroke="#000" stroke-width="0.7"/>
<path d="M1865.69 214.2L1867.99 218.4L1865.69 222.6L1863.39 218.4Z" fill="#ff0000" stroke="#000" stroke-width="0.7"/>
<path d="M1916.42 203.8L1918.72 208L1916.42 212.2L1914.12 208Z" fill="#ff0000" stroke="#000" stroke-width="0.7"/>
<path d="M1967.16 235.4L1969.46 239.6L1967.16 243.8L1964.86 239.6Z" fill="#ff0000" stroke="#000" stroke-width="0.7"/>
<path d="M2017.9 239.8L2020.2 244L2017.9 248.2L2015.6 244Z" fill="#ff0000" stroke="#000" stroke-width="0.7"/>
<path d="M1612 88L1662.74 92L1713.47 71L1764.21 80L1814.95 73.4L1865.69 59L1916.42 69.6L1967.16 72.4L2017.9 70.6" fill="none" stroke="#0000ff" stroke-width="1.25" stroke-linejoin="round"/>
<path d="M1608.9 88H1615.1M1612 84.9V91.1" stroke="#0000ff" stroke-width="1.1" fill="none"/>
<path d="M1659.64 92H1665.84M1662.74 88.9V95.1" stroke="#0000ff" stroke-width="1.1" fill="none"/>
<path d="M1710.38 71H1716.57M1713.47 67.9V74.1" stroke="#0000ff" stroke-width="1.1" fill="none"/>
<path d="M1761.11 80H1767.31M1764.21 76.9V83.1" stroke="#0000ff" stroke-width="1.1" fill="none"/>
<path d="M1811.85 73.4H1818.05M1814.95 70.3V76.5" stroke="#0000ff" stroke-width="1.1" fill="none"/>
<path d="M1862.59 59H1868.79M1865.69 55.9V62.1" stroke="#0000ff" stroke-width="1.1" fill="none"/>
<path d="M1913.33 69.6H1919.52M1916.42 66.5V72.7" stroke="#0000ff" stroke-width="1.1" fill="none"/>
<path d="M1964.06 72.4H1970.26M1967.16 69.3V75.5" stroke="#0000ff" stroke-width="1.1" fill="none"/>
<path d="M2014.8 70.6H2021M2017.9 67.5V73.7" stroke="#0000ff" stroke-width="1.1" fill="none"/>
<path d="M1612 80L1662.74 70.6L1713.47 71.4L1764.21 74.6L1814.95 68L1865.69 69.4L1916.42 76.6L1967.16 61L2017.9 71.4" fill="none" stroke="#008000" stroke-width="1.25" stroke-linejoin="round"/>
<circle cx="1612" cy="80" r="2.9" fill="#008000" stroke="#000" stroke-width="0.7"/>
<circle cx="1662.74" cy="70.6" r="2.9" fill="#008000" stroke="#000" stroke-width="0.7"/>
<circle cx="1713.47" cy="71.4" r="2.9" fill="#008000" stroke="#000" stroke-width="0.7"/>
<circle cx="1764.21" cy="74.6" r="2.9" fill="#008000" stroke="#000" stroke-width="0.7"/>
<circle cx="1814.95" cy="68" r="2.9" fill="#008000" stroke="#000" stroke-width="0.7"/>
<circle cx="1865.69" cy="69.4" r="2.9" fill="#008000" stroke="#000" stroke-width="0.7"/>
<circle cx="1916.42" cy="76.6" r="2.9" fill="#008000" stroke="#000" stroke-width="0.7"/>
<circle cx="1967.16" cy="61" r="2.9" fill="#008000" stroke="#000" stroke-width="0.7"/>
<circle cx="2017.9" cy="71.4" r="2.9" fill="#008000" stroke="#000" stroke-width="0.7"/>
<path d="M1612 90.6L1662.74 76L1713.47 73L1764.21 70L1814.95 65.6L1865.69 62.6L1916.42 72L1967.16 67.6L2017.9 86.6" fill="none" stroke="#ffa500" stroke-width="1.25" stroke-linejoin="round"/>
<path d="M1612 87.8L1614.8 93.4L1609.2 93.4Z" fill="#ffa500" stroke="#000" stroke-width="0.7"/>
<path d="M1662.74 73.2L1665.54 78.8L1659.94 78.8Z" fill="#ffa500" stroke="#000" stroke-width="0.7"/>
<path d="M1713.47 70.2L1716.27 75.8L1710.67 75.8Z" fill="#ffa500" stroke="#000" stroke-width="0.7"/>
<path d="M1764.21 67.2L1767.01 72.8L1761.41 72.8Z" fill="#ffa500" stroke="#000" stroke-width="0.7"/>
<path d="M1814.95 62.8L1817.75 68.4L1812.15 68.4Z" fill="#ffa500" stroke="#000" stroke-width="0.7"/>
<path d="M1865.69 59.8L1868.49 65.4L1862.89 65.4Z" fill="#ffa500" stroke="#000" stroke-width="0.7"/>
<path d="M1916.42 69.2L1919.22 74.8L1913.62 74.8Z" fill="#ffa500" stroke="#000" stroke-width="0.7"/>
<path d="M1967.16 64.8L1969.96 70.4L1964.36 70.4Z" fill="#ffa500" stroke="#000" stroke-width="0.7"/>
<path d="M2017.9 83.8L2020.7 89.4L2015.1 89.4Z" fill="#ffa500" stroke="#000" stroke-width="0.7"/>
<path d="M1612 71.6L1662.74 73L1713.47 68.6L1764.21 70.4L1814.95 72.4L1865.69 68L1916.42 64L1967.16 66.4L2017.9 78" fill="none" stroke="#800080" stroke-width="1.25" stroke-linejoin="round"/>
<path d="M1612 74.4L1614.8 68.8L1609.2 68.8Z" fill="#800080" stroke="#000" stroke-width="0.7"/>
<path d="M1662.74 75.8L1665.54 70.2L1659.94 70.2Z" fill="#800080" stroke="#000" stroke-width="0.7"/>
<path d="M1713.47 71.4L1716.27 65.8L1710.67 65.8Z" fill="#800080" stroke="#000" stroke-width="0.7"/>
<path d="M1764.21 73.2L1767.01 67.6L1761.41 67.6Z" fill="#800080" stroke="#000" stroke-width="0.7"/>
<path d="M1814.95 75.2L1817.75 69.6L1812.15 69.6Z" fill="#800080" stroke="#000" stroke-width="0.7"/>
<path d="M1865.69 70.8L1868.49 65.2L1862.89 65.2Z" fill="#800080" stroke="#000" stroke-width="0.7"/>
<path d="M1916.42 66.8L1919.22 61.2L1913.62 61.2Z" fill="#800080" stroke="#000" stroke-width="0.7"/>
<path d="M1967.16 69.2L1969.96 63.6L1964.36 63.6Z" fill="#800080" stroke="#000" stroke-width="0.7"/>
<path d="M2017.9 80.8L2020.7 75.2L2015.1 75.2Z" fill="#800080" stroke="#000" stroke-width="0.7"/>
</g>
<path d="M1628.2 108H1666.9" stroke="#ff0000" stroke-width="1.3"/>
<path d="M1647.55 103.8L1649.85 108L1647.55 112.2L1645.25 108Z" fill="#ff0000" stroke="#000" stroke-width="0.7"/>
<text transform="translate(1681,114.7) scale(1,1.035)" class="t">SDNE</text>
<path d="M1628.2 135.2H1666.9" stroke="#0000ff" stroke-width="1.3"/>
<path d="M1644.45 135.2H1650.65M1647.55 132.1V138.3" stroke="#0000ff" stroke-width="1.1" fill="none"/>
<text transform="translate(1681,141.9) scale(1,1.035)" class="t">DeepWalk</text>
<path d="M1628.2 162.4H1666.9" stroke="#008000" stroke-width="1.3"/>
<circle cx="1647.55" cy="162.4" r="2.9" fill="#008000" stroke="#000" stroke-width="0.7"/>
<text transform="translate(1681,169.1) scale(1,1.035)" class="t">N2V-S</text>
<path d="M1628.2 189.6H1666.9" stroke="#ffa500" stroke-width="1.3"/>
<path d="M1647.55 186.8L1650.35 192.4L1644.75 192.4Z" fill="#ffa500" stroke="#000" stroke-width="0.7"/>
<text transform="translate(1681,196.3) scale(1,1.035)" class="t">N2V-H</text>
<path d="M1628.2 216.8H1666.9" stroke="#800080" stroke-width="1.3"/>
<path d="M1647.55 219.6L1650.35 214L1644.75 214Z" fill="#800080" stroke="#000" stroke-width="0.7"/>
<text transform="translate(1681,223.5) scale(1,1.035)" class="t">PD</text>
<rect x="1612" y="11.5" width="405.9" height="303.9" fill="none" stroke="#000" stroke-width="1.3"/>
<text transform="translate(1608.35,320.5) scale(1,1.035)" class="t" text-anchor="end">0.34</text>
<text transform="translate(1608.35,277.09) scale(1,1.035)" class="t" text-anchor="end">0.36</text>
<text transform="translate(1608.35,233.67) scale(1,1.035)" class="t" text-anchor="end">0.38</text>
<text transform="translate(1608.35,190.26) scale(1,1.035)" class="t" text-anchor="end">0.40</text>
<text transform="translate(1608.35,146.84) scale(1,1.035)" class="t" text-anchor="end">0.42</text>
<text transform="translate(1608.35,103.43) scale(1,1.035)" class="t" text-anchor="end">0.44</text>
<text transform="translate(1608.35,60.01) scale(1,1.035)" class="t" text-anchor="end">0.46</text>
<text transform="translate(1608.35,16.6) scale(1,1.035)" class="t" text-anchor="end">0.48</text>
<path d="M1612 315.4V311.4M1612 11.5V15.5M1662.74 315.4V311.4M1662.74 11.5V15.5M1713.47 315.4V311.4M1713.47 11.5V15.5M1764.21 315.4V311.4M1764.21 11.5V15.5M1814.95 315.4V311.4M1814.95 11.5V15.5M1865.69 315.4V311.4M1865.69 11.5V15.5M1916.42 315.4V311.4M1916.42 11.5V15.5M1967.16 315.4V311.4M1967.16 11.5V15.5M2017.9 315.4V311.4M2017.9 11.5V15.5M1612 315.4H1616M2017.9 315.4H2013.9M1612 271.99H1616M2017.9 271.99H2013.9M1612 228.57H1616M2017.9 228.57H2013.9M1612 185.16H1616M2017.9 185.16H2013.9M1612 141.74H1616M2017.9 141.74H2013.9M1612 98.33H1616M2017.9 98.33H2013.9M1612 54.91H1616M2017.9 54.91H2013.9M1612 11.5H1616M2017.9 11.5H2013.9" stroke="#000" stroke-width="1.0" fill="none"/>
<text transform="translate(1612,333.9) scale(1,1.035)" class="t" text-anchor="middle">0.1</text>
<text transform="translate(1662.74,333.9) scale(1,1.035)" class="t" text-anchor="middle">0.2</text>
<text transform="translate(1713.47,333.9) scale(1,1.035)" class="t" text-anchor="middle">0.3</text>
<text transform="translate(1764.21,333.9) scale(1,1.035)" class="t" text-anchor="middle">0.4</text>
<text transform="translate(1814.95,333.9) scale(1,1.035)" class="t" text-anchor="middle">0.5</text>
<text transform="translate(1865.69,333.9) scale(1,1.035)" class="t" text-anchor="middle">0.6</text>
<text transform="translate(1916.42,333.9) scale(1,1.035)" class="t" text-anchor="middle">0.7</text>
<text transform="translate(1967.16,333.9) scale(1,1.035)" class="t" text-anchor="middle">0.8</text>
<text transform="translate(2017.9,333.9) scale(1,1.035)" class="t" text-anchor="middle">0.9</text>
<text x="1600.52" y="362.7" class="ax" textLength="430.24" lengthAdjust="spacingAndGlyphs">Fraction of Labeled Training Data</text>
<text x="-0.35" y="0" class="ax" textLength="67.92" lengthAdjust="spacingAndGlyphs" transform="translate(1557.2,196.9) rotate(-90)">Score</text>
<text x="1591.75" y="441.2" class="capb" textLength="57" lengthAdjust="spacingAndGlyphs">(d)</text>
<text x="1664.4" y="441.2" class="cap" textLength="285.79" lengthAdjust="spacingAndGlyphs">Micro HepTh</text>
<clipPath id="clipe"><rect x="75.5" y="544.3" width="405.9" height="303.9"/></clipPath>
<g clip-path="url(#clipe)">
<path d="M75.5 628L126.24 753.6L176.97 641L227.71 698L278.45 653L329.19 699L379.92 621.6L430.66 689.6L481.4 642.4L481.4 690.4L430.66 721.6L379.92 653.6L329.19 731L278.45 689L227.71 720L176.97 665L126.24 781.6L75.5 680Z" fill="#ff0000" fill-opacity="0.1"/>
<path d="M75.5 593L126.24 774L176.97 634.6L227.71 707L278.45 612L329.19 673L379.92 595.6L430.66 676L481.4 600L481.4 664L430.66 688L379.92 627.6L329.19 777L278.45 704L227.71 771L176.97 656.6L126.24 790L75.5 617Z" fill="#0000ff" fill-opacity="0.1"/>
<path d="M75.5 601L126.24 693L176.97 612L227.71 687L278.45 637L329.19 646L379.92 624L430.66 683.6L481.4 661L481.4 685L430.66 703.6L379.92 664L329.19 773.2L278.45 693L227.71 759L176.97 638L126.24 781L75.5 665Z" fill="#008000" fill-opacity="0.1"/>
<path d="M75.5 596L126.24 775.6L176.97 637L227.71 640L278.45 622L329.19 673.6L379.92 594.4L430.66 697.6L481.4 634L481.4 674L430.66 741.6L379.92 654.4L329.19 733.6L278.45 702L227.71 732L176.97 713L126.24 803.6L75.5 748Z" fill="#ffa500" fill-opacity="0.1"/>
<path d="M75.5 785L126.24 761.6L176.97 706.6L227.71 770.6L278.45 680L329.19 726.4L379.92 679L430.66 756L481.4 689L481.4 717L430.66 804L379.92 707L329.19 798.4L278.45 696L227.71 794.6L176.97 782.6L126.24 793.6L75.5 797Z" fill="#800080" fill-opacity="0.1"/>
<path d="M75.5 654L126.24 767.6L176.97 653L227.71 709L278.45 671L329.19 715L379.92 637.6L430.66 705.6L481.4 666.4" fill="none" stroke="#ff0000" stroke-width="1.25" stroke-linejoin="round"/>
<path d="M75.5 649.8L77.8 654L75.5 658.2L73.2 654Z" fill="#ff0000" stroke="#000" stroke-width="0.7"/>
<path d="M126.24 763.4L128.54 767.6L126.24 771.8L123.94 767.6Z" fill="#ff0000" stroke="#000" stroke-width="0.7"/>
<path d="M176.97 648.8L179.28 653L176.97 657.2L174.67 653Z" fill="#ff0000" stroke="#000" stroke-width="0.7"/>
<path d="M227.71 704.8L230.01 709L227.71 713.2L225.41 709Z" fill="#ff0000" stroke="#000" stroke-width="0.7"/>
<path d="M278.45 666.8L280.75 671L278.45 675.2L276.15 671Z" fill="#ff0000" stroke="#000" stroke-width="0.7"/>
<path d="M329.19 710.8L331.49 715L329.19 719.2L326.89 715Z" fill="#ff0000" stroke="#000" stroke-width="0.7"/>
<path d="M379.92 633.4L382.22 637.6L379.92 641.8L377.62 637.6Z" fill="#ff0000" stroke="#000" stroke-width="0.7"/>
<path d="M430.66 701.4L432.96 705.6L430.66 709.8L428.36 705.6Z" fill="#ff0000" stroke="#000" stroke-width="0.7"/>
<path d="M481.4 662.2L483.7 666.4L481.4 670.6L479.1 666.4Z" fill="#ff0000" stroke="#000" stroke-width="0.7"/>
<path d="M75.5 605L126.24 782L176.97 645.6L227.71 739L278.45 658L329.19 725L379.92 611.6L430.66 682L481.4 632" fill="none" stroke="#0000ff" stroke-width="1.25" stroke-linejoin="round"/>
<path d="M72.4 605H78.6M75.5 601.9V608.1" stroke="#0000ff" stroke-width="1.1" fill="none"/>
<path d="M123.14 782H129.34M126.24 778.9V785.1" stroke="#0000ff" stroke-width="1.1" fill="none"/>
<path d="M173.88 645.6H180.07M176.97 642.5V648.7" stroke="#0000ff" stroke-width="1.1" fill="none"/>
<path d="M224.61 739H230.81M227.71 735.9V742.1" stroke="#0000ff" stroke-width="1.1" fill="none"/>
<path d="M275.35 658H281.55M278.45 654.9V661.1" stroke="#0000ff" stroke-width="1.1" fill="none"/>
<path d="M326.09 725H332.29M329.19 721.9V728.1" stroke="#0000ff" stroke-width="1.1" fill="none"/>
<path d="M376.82 611.6H383.02M379.92 608.5V614.7" stroke="#0000ff" stroke-width="1.1" fill="none"/>
<path d="M427.56 682H433.76M430.66 678.9V685.1" stroke="#0000ff" stroke-width="1.1" fill="none"/>
<path d="M478.3 632H484.5M481.4 628.9V635.1" stroke="#0000ff" stroke-width="1.1" fill="none"/>
<path d="M75.5 633L126.24 737L176.97 625L227.71 723L278.45 665L329.19 709.6L379.92 644L430.66 693.6L481.4 673" fill="none" stroke="#008000" stroke-width="1.25" stroke-linejoin="round"/>
<circle cx="75.5" cy="633" r="2.9" fill="#008000" stroke="#000" stroke-width="0.7"/>
<circle cx="126.24" cy="737" r="2.9" fill="#008000" stroke="#000" stroke-width="0.7"/>
<circle cx="176.97" cy="625" r="2.9" fill="#008000" stroke="#000" stroke-width="0.7"/>
<circle cx="227.71" cy="723" r="2.9" fill="#008000" stroke="#000" stroke-width="0.7"/>
<circle cx="278.45" cy="665" r="2.9" fill="#008000" stroke="#000" stroke-width="0.7"/>
<circle cx="329.19" cy="709.6" r="2.9" fill="#008000" stroke="#000" stroke-width="0.7"/>
<circle cx="379.92" cy="644" r="2.9" fill="#008000" stroke="#000" stroke-width="0.7"/>
<circle cx="430.66" cy="693.6" r="2.9" fill="#008000" stroke="#000" stroke-width="0.7"/>
<circle cx="481.4" cy="673" r="2.9" fill="#008000" stroke="#000" stroke-width="0.7"/>
<path d="M75.5 672L126.24 789.6L176.97 675L227.71 686L278.45 662L329.19 703.6L379.92 624.4L430.66 719.6L481.4 654" fill="none" stroke="#ffa500" stroke-width="1.25" stroke-linejoin="round"/>
<path d="M75.5 669.2L78.3 674.8L72.7 674.8Z" fill="#ffa500" stroke="#000" stroke-width="0.7"/>
<path d="M126.24 786.8L129.04 792.4L123.44 792.4Z" fill="#ffa500" stroke="#000" stroke-width="0.7"/>
<path d="M176.97 672.2L179.78 677.8L174.17 677.8Z" fill="#ffa500" stroke="#000" stroke-width="0.7"/>
<path d="M227.71 683.2L230.51 688.8L224.91 688.8Z" fill="#ffa500" stroke="#000" stroke-width="0.7"/>
<path d="M278.45 659.2L281.25 664.8L275.65 664.8Z" fill="#ffa500" stroke="#000" stroke-width="0.7"/>
<path d="M329.19 700.8L331.99 706.4L326.39 706.4Z" fill="#ffa500" stroke="#000" stroke-width="0.7"/>
<path d="M379.92 621.6L382.72 627.2L377.12 627.2Z" fill="#ffa500" stroke="#000" stroke-width="0.7"/>
<path d="M430.66 716.8L433.46 722.4L427.86 722.4Z" fill="#ffa500" stroke="#000" stroke-width="0.7"/>
<path d="M481.4 651.2L484.2 656.8L478.6 656.8Z" fill="#ffa500" stroke="#000" stroke-width="0.7"/>
<path d="M75.5 791L126.24 777.6L176.97 744.6L227.71 782.6L278.45 688L329.19 762.4L379.92 693L430.66 780L481.4 703" fill="none" stroke="#800080" stroke-width="1.25" stroke-linejoin="round"/>
<path d="M75.5 793.8L78.3 788.2L72.7 788.2Z" fill="#800080" stroke="#000" stroke-width="0.7"/>
<path d="M126.24 780.4L129.04 774.8L123.44 774.8Z" fill="#800080" stroke="#000" stroke-width="0.7"/>
<path d="M176.97 747.4L179.78 741.8L174.17 741.8Z" fill="#800080" stroke="#000" stroke-width="0.7"/>
<path d="M227.71 785.4L230.51 779.8L224.91 779.8Z" fill="#800080" stroke="#000" stroke-width="0.7"/>
<path d="M278.45 690.8L281.25 685.2L275.65 685.2Z" fill="#800080" stroke="#000" stroke-width="0.7"/>
<path d="M329.19 765.2L331.99 759.6L326.39 759.6Z" fill="#800080" stroke="#000" stroke-width="0.7"/>
<path d="M379.92 695.8L382.72 690.2L377.12 690.2Z" fill="#800080" stroke="#000" stroke-width="0.7"/>
<path d="M430.66 782.8L433.46 777.2L427.86 777.2Z" fill="#800080" stroke="#000" stroke-width="0.7"/>
<path d="M481.4 705.8L484.2 700.2L478.6 700.2Z" fill="#800080" stroke="#000" stroke-width="0.7"/>
</g>
<path d="M91.8 568.6H130.5" stroke="#ff0000" stroke-width="1.3"/>
<path d="M111.15 564.4L113.45 568.6L111.15 572.8L108.85 568.6Z" fill="#ff0000" stroke="#000" stroke-width="0.7"/>
<text transform="translate(144.6,575.3) scale(1,1.035)" class="t">SDNE</text>
<path d="M91.8 595.85H130.5" stroke="#0000ff" stroke-width="1.3"/>
<path d="M108.05 595.85H114.25M111.15 592.75V598.95" stroke="#0000ff" stroke-width="1.1" fill="none"/>
<text transform="translate(144.6,602.55) scale(1,1.035)" class="t">DeepWalk</text>
<path d="M91.8 623.1H130.5" stroke="#008000" stroke-width="1.3"/>
<circle cx="111.15" cy="623.1" r="2.9" fill="#008000" stroke="#000" stroke-width="0.7"/>
<text transform="translate(144.6,629.8) scale(1,1.035)" class="t">N2V-S</text>
<path d="M91.8 650.35H130.5" stroke="#ffa500" stroke-width="1.3"/>
<path d="M111.15 647.55L113.95 653.15L108.35 653.15Z" fill="#ffa500" stroke="#000" stroke-width="0.7"/>
<text transform="translate(144.6,657.05) scale(1,1.035)" class="t">N2V-H</text>
<path d="M91.8 677.6H130.5" stroke="#800080" stroke-width="1.3"/>
<path d="M111.15 680.4L113.95 674.8L108.35 674.8Z" fill="#800080" stroke="#000" stroke-width="0.7"/>
<text transform="translate(144.6,684.3) scale(1,1.035)" class="t">PD</text>
<rect x="75.5" y="544.3" width="405.9" height="303.9" fill="none" stroke="#000" stroke-width="1.3"/>
<text transform="translate(71.85,853.3) scale(1,1.035)" class="t" text-anchor="end">0.05</text>
<text transform="translate(71.85,792.52) scale(1,1.035)" class="t" text-anchor="end">0.10</text>
<text transform="translate(71.85,731.74) scale(1,1.035)" class="t" text-anchor="end">0.15</text>
<text transform="translate(71.85,670.96) scale(1,1.035)" class="t" text-anchor="end">0.20</text>
<text transform="translate(71.85,610.18) scale(1,1.035)" class="t" text-anchor="end">0.25</text>
<text transform="translate(71.85,549.4) scale(1,1.035)" class="t" text-anchor="end">0.30</text>
<path d="M75.5 848.2V844.2M75.5 544.3V548.3M126.24 848.2V844.2M126.24 544.3V548.3M176.97 848.2V844.2M176.97 544.3V548.3M227.71 848.2V844.2M227.71 544.3V548.3M278.45 848.2V844.2M278.45 544.3V548.3M329.19 848.2V844.2M329.19 544.3V548.3M379.92 848.2V844.2M379.92 544.3V548.3M430.66 848.2V844.2M430.66 544.3V548.3M481.4 848.2V844.2M481.4 544.3V548.3M75.5 848.2H79.5M481.4 848.2H477.4M75.5 787.42H79.5M481.4 787.42H477.4M75.5 726.64H79.5M481.4 726.64H477.4M75.5 665.86H79.5M481.4 665.86H477.4M75.5 605.08H79.5M481.4 605.08H477.4M75.5 544.3H79.5M481.4 544.3H477.4" stroke="#000" stroke-width="1.0" fill="none"/>
<text transform="translate(75.5,866.7) scale(1,1.035)" class="t" text-anchor="middle">0.1</text>
<text transform="translate(126.24,866.7) scale(1,1.035)" class="t" text-anchor="middle">0.2</text>
<text transform="translate(176.97,866.7) scale(1,1.035)" class="t" text-anchor="middle">0.3</text>
<text transform="translate(227.71,866.7) scale(1,1.035)" class="t" text-anchor="middle">0.4</text>
<text transform="translate(278.45,866.7) scale(1,1.035)" class="t" text-anchor="middle">0.5</text>
<text transform="translate(329.19,866.7) scale(1,1.035)" class="t" text-anchor="middle">0.6</text>
<text transform="translate(379.92,866.7) scale(1,1.035)" class="t" text-anchor="middle">0.7</text>
<text transform="translate(430.66,866.7) scale(1,1.035)" class="t" text-anchor="middle">0.8</text>
<text transform="translate(481.4,866.7) scale(1,1.035)" class="t" text-anchor="middle">0.9</text>
<text x="64.02" y="895.5" class="ax" textLength="430.24" lengthAdjust="spacingAndGlyphs">Fraction of Labeled Training Data</text>
<text x="-0.35" y="0" class="ax" textLength="67.92" lengthAdjust="spacingAndGlyphs" transform="translate(20.7,729.7) rotate(-90)">Score</text>
<text x="18.84" y="972.9" class="capb" textLength="52.13" lengthAdjust="spacingAndGlyphs">(e)</text>
<text x="86.6" y="972.9" class="cap" textLength="359.59" lengthAdjust="spacingAndGlyphs">Macro Email-EU</text>
<clipPath id="clipf"><rect x="587.8" y="544.3" width="405.9" height="303.9"/></clipPath>
<g clip-path="url(#clipf)">
<path d="M587.8 724.6L638.54 698L689.27 742L740.01 694L790.75 750.6L841.49 667L892.22 700L942.96 708.4L993.7 710L993.7 782L942.96 744.4L892.22 744L841.49 731L790.75 779.4L740.01 768L689.27 772L638.54 810L587.8 784.6Z" fill="#ff0000" fill-opacity="0.1"/>
<path d="M587.8 626L638.54 682L689.27 628.6L740.01 640L790.75 604.6L841.49 632.4L892.22 594.6L942.96 613.6L993.7 593.6L993.7 665.6L942.96 629.6L892.22 628.6L841.49 704.4L790.75 654.6L740.01 700L689.27 654.6L638.54 722L587.8 666Z" fill="#0000ff" fill-opacity="0.1"/>
<path d="M587.8 647L638.54 642.6L689.27 620.6L740.01 663.6L790.75 632.6L841.49 663.6L892.22 609.6L942.96 633.6L993.7 624L993.7 692L942.96 669.6L892.22 633.6L841.49 687.6L790.75 674.6L740.01 687.6L689.27 666.6L638.54 722.6L587.8 667Z" fill="#008000" fill-opacity="0.1"/>
<path d="M587.8 629L638.54 710.6L689.27 657L740.01 614.4L790.75 615L841.49 647.6L892.22 600L942.96 674L993.7 577.6L993.7 697.6L942.96 726L892.22 620L841.49 671.6L790.75 655L740.01 670.4L689.27 673L638.54 728.6L587.8 697Z" fill="#ffa500" fill-opacity="0.1"/>
<path d="M587.8 698L638.54 688.4L689.27 674.4L740.01 687L790.75 630.4L841.49 652L892.22 610L942.96 659.6L993.7 629L993.7 709L942.96 739.6L892.22 662L841.49 712L790.75 642.4L740.01 703L689.27 714.4L638.54 704.4L587.8 722Z" fill="#800080" fill-opacity="0.1"/>
<path d="M587.8 754.6L638.54 754L689.27 757L740.01 731L790.75 765L841.49 699L892.22 722L942.96 726.4L993.7 746" fill="none" stroke="#ff0000" stroke-width="1.25" stroke-linejoin="round"/>
<path d="M587.8 750.4L590.1 754.6L587.8 758.8L585.5 754.6Z" fill="#ff0000" stroke="#000" stroke-width="0.7"/>
<path d="M638.54 749.8L640.84 754L638.54 758.2L636.24 754Z" fill="#ff0000" stroke="#000" stroke-width="0.7"/>
<path d="M689.27 752.8L691.57 757L689.27 761.2L686.98 757Z" fill="#ff0000" stroke="#000" stroke-width="0.7"/>
<path d="M740.01 726.8L742.31 731L740.01 735.2L737.71 731Z" fill="#ff0000" stroke="#000" stroke-width="0.7"/>
<path d="M790.75 760.8L793.05 765L790.75 769.2L788.45 765Z" fill="#ff0000" stroke="#000" stroke-width="0.7"/>
<path d="M841.49 694.8L843.79 699L841.49 703.2L839.19 699Z" fill="#ff0000" stroke="#000" stroke-width="0.7"/>
<path d="M892.22 717.8L894.52 722L892.22 726.2L889.92 722Z" fill="#ff0000" stroke="#000" stroke-width="0.7"/>
<path d="M942.96 722.2L945.26 726.4L942.96 730.6L940.66 726.4Z" fill="#ff0000" stroke="#000" stroke-width="0.7"/>
<path d="M993.7 741.8L996 746L993.7 750.2L991.4 746Z" fill="#ff0000" stroke="#000" stroke-width="0.7"/>
<path d="M587.8 646L638.54 702L689.27 641.6L740.01 670L790.75 629.6L841.49 668.4L892.22 611.6L942.96 621.6L993.7 629.6" fill="none" stroke="#0000ff" stroke-width="1.25" stroke-linejoin="round"/>
<path d="M584.7 646H590.9M587.8 642.9V649.1" stroke="#0000ff" stroke-width="1.1" fill="none"/>
<path d="M635.44 702H641.64M638.54 698.9V705.1" stroke="#0000ff" stroke-width="1.1" fill="none"/>
<path d="M686.17 641.6H692.38M689.27 638.5V644.7" stroke="#0000ff" stroke-width="1.1" fill="none"/>
<path d="M736.91 670H743.11M740.01 666.9V673.1" stroke="#0000ff" stroke-width="1.1" fill="none"/>
<path d="M787.65 629.6H793.85M790.75 626.5V632.7" stroke="#0000ff" stroke-width="1.1" fill="none"/>
<path d="M838.39 668.4H844.59M841.49 665.3V671.5" stroke="#0000ff" stroke-width="1.1" fill="none"/>
<path d="M889.12 611.6H895.32M892.22 608.5V614.7" stroke="#0000ff" stroke-width="1.1" fill="none"/>
<path d="M939.86 621.6H946.06M942.96 618.5V624.7" stroke="#0000ff" stroke-width="1.1" fill="none"/>
<path d="M990.6 629.6H996.8M993.7 626.5V632.7" stroke="#0000ff" stroke-width="1.1" fill="none"/>
<path d="M587.8 657L638.54 682.6L689.27 643.6L740.01 675.6L790.75 653.6L841.49 675.6L892.22 621.6L942.96 651.6L993.7 658" fill="none" stroke="#008000" stroke-width="1.25" stroke-linejoin="round"/>
<circle cx="587.8" cy="657" r="2.9" fill="#008000" stroke="#000" stroke-width="0.7"/>
<circle cx="638.54" cy="682.6" r="2.9" fill="#008000" stroke="#000" stroke-width="0.7"/>
<circle cx="689.27" cy="643.6" r="2.9" fill="#008000" stroke="#000" stroke-width="0.7"/>
<circle cx="740.01" cy="675.6" r="2.9" fill="#008000" stroke="#000" stroke-width="0.7"/>
<circle cx="790.75" cy="653.6" r="2.9" fill="#008000" stroke="#000" stroke-width="0.7"/>
<circle cx="841.49" cy="675.6" r="2.9" fill="#008000" stroke="#000" stroke-width="0.7"/>
<circle cx="892.22" cy="621.6" r="2.9" fill="#008000" stroke="#000" stroke-width="0.7"/>
<circle cx="942.96" cy="651.6" r="2.9" fill="#008000" stroke="#000" stroke-width="0.7"/>
<circle cx="993.7" cy="658" r="2.9" fill="#008000" stroke="#000" stroke-width="0.7"/>
<path d="M587.8 663L638.54 719.6L689.27 665L740.01 642.4L790.75 635L841.49 659.6L892.22 610L942.96 700L993.7 637.6" fill="none" stroke="#ffa500" stroke-width="1.25" stroke-linejoin="round"/>
<path d="M587.8 660.2L590.6 665.8L585 665.8Z" fill="#ffa500" stroke="#000" stroke-width="0.7"/>
<path d="M638.54 716.8L641.34 722.4L635.74 722.4Z" fill="#ffa500" stroke="#000" stroke-width="0.7"/>
<path d="M689.27 662.2L692.07 667.8L686.48 667.8Z" fill="#ffa500" stroke="#000" stroke-width="0.7"/>
<path d="M740.01 639.6L742.81 645.2L737.21 645.2Z" fill="#ffa500" stroke="#000" stroke-width="0.7"/>
<path d="M790.75 632.2L793.55 637.8L787.95 637.8Z" fill="#ffa500" stroke="#000" stroke-width="0.7"/>
<path d="M841.49 656.8L844.29 662.4L838.69 662.4Z" fill="#ffa500" stroke="#000" stroke-width="0.7"/>
<path d="M892.22 607.2L895.02 612.8L889.42 612.8Z" fill="#ffa500" stroke="#000" stroke-width="0.7"/>
<path d="M942.96 697.2L945.76 702.8L940.16 702.8Z" fill="#ffa500" stroke="#000" stroke-width="0.7"/>
<path d="M993.7 634.8L996.5 640.4L990.9 640.4Z" fill="#ffa500" stroke="#000" stroke-width="0.7"/>
<path d="M587.8 710L638.54 696.4L689.27 694.4L740.01 695L790.75 636.4L841.49 682L892.22 636L942.96 699.6L993.7 669" fill="none" stroke="#800080" stroke-width="1.25" stroke-linejoin="round"/>
<path d="M587.8 712.8L590.6 707.2L585 707.2Z" fill="#800080" stroke="#000" stroke-width="0.7"/>
<path d="M638.54 699.2L641.34 693.6L635.74 693.6Z" fill="#800080" stroke="#000" stroke-width="0.7"/>
<path d="M689.27 697.2L692.07 691.6L686.48 691.6Z" fill="#800080" stroke="#000" stroke-width="0.7"/>
<path d="M740.01 697.8L742.81 692.2L737.21 692.2Z" fill="#800080" stroke="#000" stroke-width="0.7"/>
<path d="M790.75 639.2L793.55 633.6L787.95 633.6Z" fill="#800080" stroke="#000" stroke-width="0.7"/>
<path d="M841.49 684.8L844.29 679.2L838.69 679.2Z" fill="#800080" stroke="#000" stroke-width="0.7"/>
<path d="M892.22 638.8L895.02 633.2L889.42 633.2Z" fill="#800080" stroke="#000" stroke-width="0.7"/>
<path d="M942.96 702.4L945.76 696.8L940.16 696.8Z" fill="#800080" stroke="#000" stroke-width="0.7"/>
<path d="M993.7 671.8L996.5 666.2L990.9 666.2Z" fill="#800080" stroke="#000" stroke-width="0.7"/>
</g>
<path d="M717.6 712H756.3" stroke="#ff0000" stroke-width="1.3"/>
<path d="M736.95 707.8L739.25 712L736.95 716.2L734.65 712Z" fill="#ff0000" stroke="#000" stroke-width="0.7"/>
<text transform="translate(770.4,718.7) scale(1,1.035)" class="t">SDNE</text>
<path d="M717.6 739.25H756.3" stroke="#0000ff" stroke-width="1.3"/>
<path d="M733.85 739.25H740.05M736.95 736.15V742.35" stroke="#0000ff" stroke-width="1.1" fill="none"/>
<text transform="translate(770.4,745.95) scale(1,1.035)" class="t">DeepWalk</text>
<path d="M717.6 766.5H756.3" stroke="#008000" stroke-width="1.3"/>
<circle cx="736.95" cy="766.5" r="2.9" fill="#008000" stroke="#000" stroke-width="0.7"/>
<text transform="translate(770.4,773.2) scale(1,1.035)" class="t">N2V-S</text>
<path d="M717.6 793.75H756.3" stroke="#ffa500" stroke-width="1.3"/>
<path d="M736.95 790.95L739.75 796.55L734.15 796.55Z" fill="#ffa500" stroke="#000" stroke-width="0.7"/>
<text transform="translate(770.4,800.45) scale(1,1.035)" class="t">N2V-H</text>
<path d="M717.6 821H756.3" stroke="#800080" stroke-width="1.3"/>
<path d="M736.95 823.8L739.75 818.2L734.15 818.2Z" fill="#800080" stroke="#000" stroke-width="0.7"/>
<text transform="translate(770.4,827.7) scale(1,1.035)" class="t">PD</text>
<rect x="587.8" y="544.3" width="405.9" height="303.9" fill="none" stroke="#000" stroke-width="1.3"/>
<text transform="translate(584.15,853.3) scale(1,1.035)" class="t" text-anchor="end">0.20</text>
<text transform="translate(584.15,792.52) scale(1,1.035)" class="t" text-anchor="end">0.25</text>
<text transform="translate(584.15,731.74) scale(1,1.035)" class="t" text-anchor="end">0.30</text>
<text transform="translate(584.15,670.96) scale(1,1.035)" class="t" text-anchor="end">0.35</text>
<text transform="translate(584.15,610.18) scale(1,1.035)" class="t" text-anchor="end">0.40</text>
<text transform="translate(584.15,549.4) scale(1,1.035)" class="t" text-anchor="end">0.45</text>
<path d="M587.8 848.2V844.2M587.8 544.3V548.3M638.54 848.2V844.2M638.54 544.3V548.3M689.27 848.2V844.2M689.27 544.3V548.3M740.01 848.2V844.2M740.01 544.3V548.3M790.75 848.2V844.2M790.75 544.3V548.3M841.49 848.2V844.2M841.49 544.3V548.3M892.22 848.2V844.2M892.22 544.3V548.3M942.96 848.2V844.2M942.96 544.3V548.3M993.7 848.2V844.2M993.7 544.3V548.3M587.8 848.2H591.8M993.7 848.2H989.7M587.8 787.42H591.8M993.7 787.42H989.7M587.8 726.64H591.8M993.7 726.64H989.7M587.8 665.86H591.8M993.7 665.86H989.7M587.8 605.08H591.8M993.7 605.08H989.7M587.8 544.3H591.8M993.7 544.3H989.7" stroke="#000" stroke-width="1.0" fill="none"/>
<text transform="translate(587.8,866.7) scale(1,1.035)" class="t" text-anchor="middle">0.1</text>
<text transform="translate(638.54,866.7) scale(1,1.035)" class="t" text-anchor="middle">0.2</text>
<text transform="translate(689.27,866.7) scale(1,1.035)" class="t" text-anchor="middle">0.3</text>
<text transform="translate(740.01,866.7) scale(1,1.035)" class="t" text-anchor="middle">0.4</text>
<text transform="translate(790.75,866.7) scale(1,1.035)" class="t" text-anchor="middle">0.5</text>
<text transform="translate(841.49,866.7) scale(1,1.035)" class="t" text-anchor="middle">0.6</text>
<text transform="translate(892.22,866.7) scale(1,1.035)" class="t" text-anchor="middle">0.7</text>
<text transform="translate(942.96,866.7) scale(1,1.035)" class="t" text-anchor="middle">0.8</text>
<text transform="translate(993.7,866.7) scale(1,1.035)" class="t" text-anchor="middle">0.9</text>
<text x="576.32" y="895.5" class="ax" textLength="430.24" lengthAdjust="spacingAndGlyphs">Fraction of Labeled Training Data</text>
<text x="-0.35" y="0" class="ax" textLength="67.92" lengthAdjust="spacingAndGlyphs" transform="translate(533,729.7) rotate(-90)">Score</text>
<text x="537.26" y="972.9" class="capb" textLength="48.57" lengthAdjust="spacingAndGlyphs">(f)</text>
<text x="601.41" y="972.9" class="cap" textLength="348.17" lengthAdjust="spacingAndGlyphs">Micro Email-EU</text>
<clipPath id="clipg"><rect x="1099.9" y="544.3" width="405.9" height="303.9"/></clipPath>
<g clip-path="url(#clipg)">
<path d="M1099.9 700.4L1150.64 728.6L1201.38 710L1252.11 692.4L1302.85 688.6L1353.59 693.6L1404.33 700.6L1455.06 690L1505.8 669.6L1505.8 733.6L1455.06 702L1404.33 710.6L1353.59 717.6L1302.85 720.6L1252.11 714.4L1201.38 732L1150.64 753.4L1099.9 744.4Z" fill="#ff0000" fill-opacity="0.1"/>
<path d="M1099.9 669.6L1150.64 627.4L1201.38 663L1252.11 633.4L1302.85 660.4L1353.59 695L1404.33 687.6L1455.06 646L1505.8 663L1505.8 687L1455.06 718L1404.33 699.6L1353.59 719L1302.85 688.4L1252.11 719.4L1201.38 753L1150.64 659.4L1099.9 745.6Z" fill="#0000ff" fill-opacity="0.1"/>
<path d="M1099.9 646L1150.64 657L1201.38 651.6L1252.11 700L1302.85 646L1353.59 660L1404.33 687.6L1455.06 680.4L1505.8 598.4L1505.8 658.4L1455.06 708.4L1404.33 707.6L1353.59 708L1302.85 684L1252.11 730L1201.38 683.6L1150.64 689L1099.9 656Z" fill="#008000" fill-opacity="0.1"/>
<path d="M1099.9 685L1150.64 636.4L1201.38 669.4L1252.11 661L1302.85 649L1353.59 669.4L1404.33 664L1455.06 574L1505.8 556.4L1505.8 636.4L1455.06 710L1404.33 686L1353.59 697.4L1302.85 661L1252.11 709L1201.38 701.4L1150.64 760.4L1099.9 709Z" fill="#ffa500" fill-opacity="0.1"/>
<path d="M1099.9 819L1150.64 820L1201.38 820L1252.11 821.4L1302.85 822L1353.59 818L1404.33 818.4L1455.06 784L1505.8 819L1505.8 829L1455.06 830L1404.33 826.4L1353.59 826L1302.85 826L1252.11 825.4L1201.38 824L1150.64 824L1099.9 823Z" fill="#800080" fill-opacity="0.1"/>
<path d="M1099.9 722.4L1150.64 741L1201.38 721L1252.11 703.4L1302.85 704.6L1353.59 705.6L1404.33 705.6L1455.06 696L1505.8 701.6" fill="none" stroke="#ff0000" stroke-width="1.25" stroke-linejoin="round"/>
<path d="M1099.9 718.2L1102.2 722.4L1099.9 726.6L1097.6 722.4Z" fill="#ff0000" stroke="#000" stroke-width="0.7"/>
<path d="M1150.64 736.8L1152.94 741L1150.64 745.2L1148.34 741Z" fill="#ff0000" stroke="#000" stroke-width="0.7"/>
<path d="M1201.38 716.8L1203.67 721L1201.38 725.2L1199.08 721Z" fill="#ff0000" stroke="#000" stroke-width="0.7"/>
<path d="M1252.11 699.2L1254.41 703.4L1252.11 707.6L1249.81 703.4Z" fill="#ff0000" stroke="#000" stroke-width="0.7"/>
<path d="M1302.85 700.4L1305.15 704.6L1302.85 708.8L1300.55 704.6Z" fill="#ff0000" stroke="#000" stroke-width="0.7"/>
<path d="M1353.59 701.4L1355.89 705.6L1353.59 709.8L1351.29 705.6Z" fill="#ff0000" stroke="#000" stroke-width="0.7"/>
<path d="M1404.33 701.4L1406.62 705.6L1404.33 709.8L1402.03 705.6Z" fill="#ff0000" stroke="#000" stroke-width="0.7"/>
<path d="M1455.06 691.8L1457.36 696L1455.06 700.2L1452.76 696Z" fill="#ff0000" stroke="#000" stroke-width="0.7"/>
<path d="M1505.8 697.4L1508.1 701.6L1505.8 705.8L1503.5 701.6Z" fill="#ff0000" stroke="#000" stroke-width="0.7"/>
<path d="M1099.9 707.6L1150.64 643.4L1201.38 708L1252.11 676.4L1302.85 674.4L1353.59 707L1404.33 693.6L1455.06 682L1505.8 675" fill="none" stroke="#0000ff" stroke-width="1.25" stroke-linejoin="round"/>
<path d="M1096.8 707.6H1103M1099.9 704.5V710.7" stroke="#0000ff" stroke-width="1.1" fill="none"/>
<path d="M1147.54 643.4H1153.74M1150.64 640.3V646.5" stroke="#0000ff" stroke-width="1.1" fill="none"/>
<path d="M1198.28 708H1204.47M1201.38 704.9V711.1" stroke="#0000ff" stroke-width="1.1" fill="none"/>
<path d="M1249.01 676.4H1255.21M1252.11 673.3V679.5" stroke="#0000ff" stroke-width="1.1" fill="none"/>
<path d="M1299.75 674.4H1305.95M1302.85 671.3V677.5" stroke="#0000ff" stroke-width="1.1" fill="none"/>
<path d="M1350.49 707H1356.69M1353.59 703.9V710.1" stroke="#0000ff" stroke-width="1.1" fill="none"/>
<path d="M1401.23 693.6H1407.42M1404.33 690.5V696.7" stroke="#0000ff" stroke-width="1.1" fill="none"/>
<path d="M1451.96 682H1458.16M1455.06 678.9V685.1" stroke="#0000ff" stroke-width="1.1" fill="none"/>
<path d="M1502.7 675H1508.9M1505.8 671.9V678.1" stroke="#0000ff" stroke-width="1.1" fill="none"/>
<path d="M1099.9 651L1150.64 673L1201.38 667.6L1252.11 715L1302.85 665L1353.59 684L1404.33 697.6L1455.06 694.4L1505.8 628.4" fill="none" stroke="#008000" stroke-width="1.25" stroke-linejoin="round"/>
<circle cx="1099.9" cy="651" r="2.9" fill="#008000" stroke="#000" stroke-width="0.7"/>
<circle cx="1150.64" cy="673" r="2.9" fill="#008000" stroke="#000" stroke-width="0.7"/>
<circle cx="1201.38" cy="667.6" r="2.9" fill="#008000" stroke="#000" stroke-width="0.7"/>
<circle cx="1252.11" cy="715" r="2.9" fill="#008000" stroke="#000" stroke-width="0.7"/>
<circle cx="1302.85" cy="665" r="2.9" fill="#008000" stroke="#000" stroke-width="0.7"/>
<circle cx="1353.59" cy="684" r="2.9" fill="#008000" stroke="#000" stroke-width="0.7"/>
<circle cx="1404.33" cy="697.6" r="2.9" fill="#008000" stroke="#000" stroke-width="0.7"/>
<circle cx="1455.06" cy="694.4" r="2.9" fill="#008000" stroke="#000" stroke-width="0.7"/>
<circle cx="1505.8" cy="628.4" r="2.9" fill="#008000" stroke="#000" stroke-width="0.7"/>
<path d="M1099.9 697L1150.64 698.4L1201.38 685.4L1252.11 685L1302.85 655L1353.59 683.4L1404.33 675L1455.06 642L1505.8 596.4" fill="none" stroke="#ffa500" stroke-width="1.25" stroke-linejoin="round"/>
<path d="M1099.9 694.2L1102.7 699.8L1097.1 699.8Z" fill="#ffa500" stroke="#000" stroke-width="0.7"/>
<path d="M1150.64 695.6L1153.44 701.2L1147.84 701.2Z" fill="#ffa500" stroke="#000" stroke-width="0.7"/>
<path d="M1201.38 682.6L1204.17 688.2L1198.58 688.2Z" fill="#ffa500" stroke="#000" stroke-width="0.7"/>
<path d="M1252.11 682.2L1254.91 687.8L1249.31 687.8Z" fill="#ffa500" stroke="#000" stroke-width="0.7"/>
<path d="M1302.85 652.2L1305.65 657.8L1300.05 657.8Z" fill="#ffa500" stroke="#000" stroke-width="0.7"/>
<path d="M1353.59 680.6L1356.39 686.2L1350.79 686.2Z" fill="#ffa500" stroke="#000" stroke-width="0.7"/>
<path d="M1404.33 672.2L1407.12 677.8L1401.53 677.8Z" fill="#ffa500" stroke="#000" stroke-width="0.7"/>
<path d="M1455.06 639.2L1457.86 644.8L1452.26 644.8Z" fill="#ffa500" stroke="#000" stroke-width="0.7"/>
<path d="M1505.8 593.6L1508.6 599.2L1503 599.2Z" fill="#ffa500" stroke="#000" stroke-width="0.7"/>
<path d="M1099.9 821L1150.64 822L1201.38 822L1252.11 823.4L1302.85 824L1353.59 822L1404.33 822.4L1455.06 807L1505.8 824" fill="none" stroke="#800080" stroke-width="1.25" stroke-linejoin="round"/>
<path d="M1099.9 823.8L1102.7 818.2L1097.1 818.2Z" fill="#800080" stroke="#000" stroke-width="0.7"/>
<path d="M1150.64 824.8L1153.44 819.2L1147.84 819.2Z" fill="#800080" stroke="#000" stroke-width="0.7"/>
<path d="M1201.38 824.8L1204.17 819.2L1198.58 819.2Z" fill="#800080" stroke="#000" stroke-width="0.7"/>
<path d="M1252.11 826.2L1254.91 820.6L1249.31 820.6Z" fill="#800080" stroke="#000" stroke-width="0.7"/>
<path d="M1302.85 826.8L1305.65 821.2L1300.05 821.2Z" fill="#800080" stroke="#000" stroke-width="0.7"/>
<path d="M1353.59 824.8L1356.39 819.2L1350.79 819.2Z" fill="#800080" stroke="#000" stroke-width="0.7"/>
<path d="M1404.33 825.2L1407.12 819.6L1401.53 819.6Z" fill="#800080" stroke="#000" stroke-width="0.7"/>
<path d="M1455.06 809.8L1457.86 804.2L1452.26 804.2Z" fill="#800080" stroke="#000" stroke-width="0.7"/>
<path d="M1505.8 826.8L1508.6 821.2L1503 821.2Z" fill="#800080" stroke="#000" stroke-width="0.7"/>
</g>
<path d="M1115.8 568.6H1154.5" stroke="#ff0000" stroke-width="1.3"/>
<path d="M1135.15 564.4L1137.45 568.6L1135.15 572.8L1132.85 568.6Z" fill="#ff0000" stroke="#000" stroke-width="0.7"/>
<text transform="translate(1168.6,575.3) scale(1,1.035)" class="t">SDNE</text>
<path d="M1115.8 595.85H1154.5" stroke="#0000ff" stroke-width="1.3"/>
<path d="M1132.05 595.85H1138.25M1135.15 592.75V598.95" stroke="#0000ff" stroke-width="1.1" fill="none"/>
<text transform="translate(1168.6,602.55) scale(1,1.035)" class="t">DeepWalk</text>
<path d="M1115.8 623.1H1154.5" stroke="#008000" stroke-width="1.3"/>
<circle cx="1135.15" cy="623.1" r="2.9" fill="#008000" stroke="#000" stroke-width="0.7"/>
<text transform="translate(1168.6,629.8) scale(1,1.035)" class="t">N2V-S</text>
<path d="M1115.8 650.35H1154.5" stroke="#ffa500" stroke-width="1.3"/>
<path d="M1135.15 647.55L1137.95 653.15L1132.35 653.15Z" fill="#ffa500" stroke="#000" stroke-width="0.7"/>
<text transform="translate(1168.6,657.05) scale(1,1.035)" class="t">N2V-H</text>
<path d="M1115.8 677.6H1154.5" stroke="#800080" stroke-width="1.3"/>
<path d="M1135.15 680.4L1137.95 674.8L1132.35 674.8Z" fill="#800080" stroke="#000" stroke-width="0.7"/>
<text transform="translate(1168.6,684.3) scale(1,1.035)" class="t">PD</text>
<rect x="1099.9" y="544.3" width="405.9" height="303.9" fill="none" stroke="#000" stroke-width="1.3"/>
<text transform="translate(1096.25,853.3) scale(1,1.035)" class="t" text-anchor="end">0.10</text>
<text transform="translate(1096.25,777.33) scale(1,1.035)" class="t" text-anchor="end">0.15</text>
<text transform="translate(1096.25,701.35) scale(1,1.035)" class="t" text-anchor="end">0.20</text>
<text transform="translate(1096.25,625.38) scale(1,1.035)" class="t" text-anchor="end">0.25</text>
<text transform="translate(1096.25,549.4) scale(1,1.035)" class="t" text-anchor="end">0.30</text>
<path d="M1099.9 848.2V844.2M1099.9 544.3V548.3M1150.64 848.2V844.2M1150.64 544.3V548.3M1201.38 848.2V844.2M1201.38 544.3V548.3M1252.11 848.2V844.2M1252.11 544.3V548.3M1302.85 848.2V844.2M1302.85 544.3V548.3M1353.59 848.2V844.2M1353.59 544.3V548.3M1404.33 848.2V844.2M1404.33 544.3V548.3M1455.06 848.2V844.2M1455.06 544.3V548.3M1505.8 848.2V844.2M1505.8 544.3V548.3M1099.9 848.2H1103.9M1505.8 848.2H1501.8M1099.9 772.23H1103.9M1505.8 772.23H1501.8M1099.9 696.25H1103.9M1505.8 696.25H1501.8M1099.9 620.27H1103.9M1505.8 620.27H1501.8M1099.9 544.3H1103.9M1505.8 544.3H1501.8" stroke="#000" stroke-width="1.0" fill="none"/>
<text transform="translate(1099.9,866.7) scale(1,1.035)" class="t" text-anchor="middle">0.1</text>
<text transform="translate(1150.64,866.7) scale(1,1.035)" class="t" text-anchor="middle">0.2</text>
<text transform="translate(1201.38,866.7) scale(1,1.035)" class="t" text-anchor="middle">0.3</text>
<text transform="translate(1252.11,866.7) scale(1,1.035)" class="t" text-anchor="middle">0.4</text>
<text transform="translate(1302.85,866.7) scale(1,1.035)" class="t" text-anchor="middle">0.5</text>
<text transform="translate(1353.59,866.7) scale(1,1.035)" class="t" text-anchor="middle">0.6</text>
<text transform="translate(1404.33,866.7) scale(1,1.035)" class="t" text-anchor="middle">0.7</text>
<text transform="translate(1455.06,866.7) scale(1,1.035)" class="t" text-anchor="middle">0.8</text>
<text transform="translate(1505.8,866.7) scale(1,1.035)" class="t" text-anchor="middle">0.9</text>
<text x="1088.42" y="895.5" class="ax" textLength="430.24" lengthAdjust="spacingAndGlyphs">Fraction of Labeled Training Data</text>
<text x="-0.35" y="0" class="ax" textLength="67.92" lengthAdjust="spacingAndGlyphs" transform="translate(1045.1,729.7) rotate(-90)">Score</text>
<text x="1047.41" y="972.9" class="capb" textLength="55.37" lengthAdjust="spacingAndGlyphs">(g)</text>
<text x="1118.21" y="972.9" class="cap" textLength="348.59" lengthAdjust="spacingAndGlyphs">Macro Facebook</text>
<clipPath id="cliph"><rect x="1612" y="536.2" width="405.9" height="312"/></clipPath>
<g clip-path="url(#cliph)">
<path d="M1612 733.62L1662.74 697.86L1713.47 754.42L1764.21 788.72L1814.95 767.92L1865.69 745.06L1916.42 739.86L1967.16 780.4L2017.9 762.73L2017.9 808.47L1967.16 792.88L1916.42 800.16L1865.69 794.96L1814.95 788.72L1764.21 834.46L1713.47 783.52L1662.74 760.24L1612 835.5Z" fill="#ff0000" fill-opacity="0.1"/>
<path d="M1612 685.18L1662.74 639.03L1713.47 652.55L1764.21 615.74L1814.95 650.46L1865.69 616.58L1916.42 598.9L1967.16 622.39L2017.9 570.83L2017.9 624.89L1967.16 634.87L1916.42 611.38L1865.69 641.52L1814.95 665.02L1764.21 624.06L1713.47 675.41L1662.74 676.45L1612 718.44Z" fill="#0000ff" fill-opacity="0.1"/>
<path d="M1612 618.66L1662.74 625.93L1713.47 606.8L1764.21 611.38L1814.95 614.7L1865.69 626.55L1916.42 586.64L1967.16 580.19L2017.9 555.87L2017.9 680.61L1967.16 625.93L1916.42 655.24L1865.69 643.19L1814.95 625.1L1764.21 636.32L1713.47 658.78L1662.74 688.31L1612 695.58Z" fill="#008000" fill-opacity="0.1"/>
<path d="M1612 668.14L1662.74 633.41L1713.47 619.28L1764.21 631.12L1814.95 615.74L1865.69 623.43L1916.42 577.08L1967.16 594.96L2017.9 578.74L2017.9 670.22L1967.16 624.06L1916.42 614.5L1865.69 635.91L1814.95 624.06L1764.21 647.76L1713.47 652.54L1662.74 679.15L1612 693.08Z" fill="#ffa500" fill-opacity="0.1"/>
<path d="M1612 638.61L1662.74 640.69L1713.47 643.6L1764.21 647.76L1814.95 650.87L1865.69 633.21L1916.42 633.21L1967.16 636.33L2017.9 639.65L2017.9 687.47L1967.16 667.51L1916.42 674.79L1865.69 666.47L1814.95 671.67L1764.21 664.4L1713.47 656.08L1662.74 661.49L1612 651.09Z" fill="#800080" fill-opacity="0.1"/>
<path d="M1612 784.56L1662.74 729.05L1713.47 768.97L1764.21 811.59L1814.95 778.32L1865.69 770.01L1916.42 770.01L1967.16 786.64L2017.9 785.6" fill="none" stroke="#ff0000" stroke-width="1.25" stroke-linejoin="round"/>
<path d="M1612 780.36L1614.3 784.56L1612 788.76L1609.7 784.56Z" fill="#ff0000" stroke="#000" stroke-width="0.7"/>
<path d="M1662.74 724.85L1665.04 729.05L1662.74 733.25L1660.44 729.05Z" fill="#ff0000" stroke="#000" stroke-width="0.7"/>
<path d="M1713.47 764.77L1715.77 768.97L1713.47 773.17L1711.17 768.97Z" fill="#ff0000" stroke="#000" stroke-width="0.7"/>
<path d="M1764.21 807.39L1766.51 811.59L1764.21 815.79L1761.91 811.59Z" fill="#ff0000" stroke="#000" stroke-width="0.7"/>
<path d="M1814.95 774.12L1817.25 778.32L1814.95 782.52L1812.65 778.32Z" fill="#ff0000" stroke="#000" stroke-width="0.7"/>
<path d="M1865.69 765.81L1867.99 770.01L1865.69 774.21L1863.39 770.01Z" fill="#ff0000" stroke="#000" stroke-width="0.7"/>
<path d="M1916.42 765.81L1918.72 770.01L1916.42 774.21L1914.12 770.01Z" fill="#ff0000" stroke="#000" stroke-width="0.7"/>
<path d="M1967.16 782.44L1969.46 786.64L1967.16 790.84L1964.86 786.64Z" fill="#ff0000" stroke="#000" stroke-width="0.7"/>
<path d="M2017.9 781.4L2020.2 785.6L2017.9 789.8L2015.6 785.6Z" fill="#ff0000" stroke="#000" stroke-width="0.7"/>
<path d="M1612 701.81L1662.74 657.74L1713.47 663.98L1764.21 619.9L1814.95 657.74L1865.69 629.05L1916.42 605.14L1967.16 628.63L2017.9 597.86" fill="none" stroke="#0000ff" stroke-width="1.25" stroke-linejoin="round"/>
<path d="M1608.9 701.81H1615.1M1612 698.71V704.91" stroke="#0000ff" stroke-width="1.1" fill="none"/>
<path d="M1659.64 657.74H1665.84M1662.74 654.64V660.84" stroke="#0000ff" stroke-width="1.1" fill="none"/>
<path d="M1710.38 663.98H1716.57M1713.47 660.88V667.08" stroke="#0000ff" stroke-width="1.1" fill="none"/>
<path d="M1761.11 619.9H1767.31M1764.21 616.8V623" stroke="#0000ff" stroke-width="1.1" fill="none"/>
<path d="M1811.85 657.74H1818.05M1814.95 654.64V660.84" stroke="#0000ff" stroke-width="1.1" fill="none"/>
<path d="M1862.59 629.05H1868.79M1865.69 625.95V632.15" stroke="#0000ff" stroke-width="1.1" fill="none"/>
<path d="M1913.33 605.14H1919.52M1916.42 602.04V608.24" stroke="#0000ff" stroke-width="1.1" fill="none"/>
<path d="M1964.06 628.63H1970.26M1967.16 625.53V631.73" stroke="#0000ff" stroke-width="1.1" fill="none"/>
<path d="M2014.8 597.86H2021M2017.9 594.76V600.96" stroke="#0000ff" stroke-width="1.1" fill="none"/>
<path d="M1612 657.12L1662.74 657.12L1713.47 632.79L1764.21 623.85L1814.95 619.9L1865.69 634.87L1916.42 620.94L1967.16 603.06L2017.9 618.24" fill="none" stroke="#008000" stroke-width="1.25" stroke-linejoin="round"/>
<circle cx="1612" cy="657.12" r="2.9" fill="#008000" stroke="#000" stroke-width="0.7"/>
<circle cx="1662.74" cy="657.12" r="2.9" fill="#008000" stroke="#000" stroke-width="0.7"/>
<circle cx="1713.47" cy="632.79" r="2.9" fill="#008000" stroke="#000" stroke-width="0.7"/>
<circle cx="1764.21" cy="623.85" r="2.9" fill="#008000" stroke="#000" stroke-width="0.7"/>
<circle cx="1814.95" cy="619.9" r="2.9" fill="#008000" stroke="#000" stroke-width="0.7"/>
<circle cx="1865.69" cy="634.87" r="2.9" fill="#008000" stroke="#000" stroke-width="0.7"/>
<circle cx="1916.42" cy="620.94" r="2.9" fill="#008000" stroke="#000" stroke-width="0.7"/>
<circle cx="1967.16" cy="603.06" r="2.9" fill="#008000" stroke="#000" stroke-width="0.7"/>
<circle cx="2017.9" cy="618.24" r="2.9" fill="#008000" stroke="#000" stroke-width="0.7"/>
<path d="M1612 680.61L1662.74 656.28L1713.47 635.91L1764.21 639.44L1814.95 619.9L1865.69 629.67L1916.42 595.79L1967.16 609.51L2017.9 624.48" fill="none" stroke="#ffa500" stroke-width="1.25" stroke-linejoin="round"/>
<path d="M1612 677.81L1614.8 683.41L1609.2 683.41Z" fill="#ffa500" stroke="#000" stroke-width="0.7"/>
<path d="M1662.74 653.48L1665.54 659.08L1659.94 659.08Z" fill="#ffa500" stroke="#000" stroke-width="0.7"/>
<path d="M1713.47 633.11L1716.27 638.71L1710.67 638.71Z" fill="#ffa500" stroke="#000" stroke-width="0.7"/>
<path d="M1764.21 636.64L1767.01 642.24L1761.41 642.24Z" fill="#ffa500" stroke="#000" stroke-width="0.7"/>
<path d="M1814.95 617.1L1817.75 622.7L1812.15 622.7Z" fill="#ffa500" stroke="#000" stroke-width="0.7"/>
<path d="M1865.69 626.87L1868.49 632.47L1862.89 632.47Z" fill="#ffa500" stroke="#000" stroke-width="0.7"/>
<path d="M1916.42 592.99L1919.22 598.59L1913.62 598.59Z" fill="#ffa500" stroke="#000" stroke-width="0.7"/>
<path d="M1967.16 606.71L1969.96 612.31L1964.36 612.31Z" fill="#ffa500" stroke="#000" stroke-width="0.7"/>
<path d="M2017.9 621.68L2020.7 627.28L2015.1 627.28Z" fill="#ffa500" stroke="#000" stroke-width="0.7"/>
<path d="M1612 644.85L1662.74 651.09L1713.47 649.84L1764.21 656.08L1814.95 661.27L1865.69 649.84L1916.42 654L1967.16 651.92L2017.9 663.56" fill="none" stroke="#800080" stroke-width="1.25" stroke-linejoin="round"/>
<path d="M1612 647.65L1614.8 642.05L1609.2 642.05Z" fill="#800080" stroke="#000" stroke-width="0.7"/>
<path d="M1662.74 653.89L1665.54 648.29L1659.94 648.29Z" fill="#800080" stroke="#000" stroke-width="0.7"/>
<path d="M1713.47 652.64L1716.27 647.04L1710.67 647.04Z" fill="#800080" stroke="#000" stroke-width="0.7"/>
<path d="M1764.21 658.88L1767.01 653.28L1761.41 653.28Z" fill="#800080" stroke="#000" stroke-width="0.7"/>
<path d="M1814.95 664.07L1817.75 658.47L1812.15 658.47Z" fill="#800080" stroke="#000" stroke-width="0.7"/>
<path d="M1865.69 652.64L1868.49 647.04L1862.89 647.04Z" fill="#800080" stroke="#000" stroke-width="0.7"/>
<path d="M1916.42 656.8L1919.22 651.2L1913.62 651.2Z" fill="#800080" stroke="#000" stroke-width="0.7"/>
<path d="M1967.16 654.72L1969.96 649.12L1964.36 649.12Z" fill="#800080" stroke="#000" stroke-width="0.7"/>
<path d="M2017.9 666.36L2020.7 660.76L2015.1 660.76Z" fill="#800080" stroke="#000" stroke-width="0.7"/>
</g>
<path d="M1628.2 712.2H1666.9" stroke="#ff0000" stroke-width="1.3"/>
<path d="M1647.55 708L1649.85 712.2L1647.55 716.4L1645.25 712.2Z" fill="#ff0000" stroke="#000" stroke-width="0.7"/>
<text transform="translate(1681,718.9) scale(1,1.035)" class="t">SDNE</text>
<path d="M1628.2 739.5H1666.9" stroke="#0000ff" stroke-width="1.3"/>
<path d="M1644.45 739.5H1650.65M1647.55 736.4V742.6" stroke="#0000ff" stroke-width="1.1" fill="none"/>
<text transform="translate(1681,746.2) scale(1,1.035)" class="t">DeepWalk</text>
<path d="M1628.2 766.8H1666.9" stroke="#008000" stroke-width="1.3"/>
<circle cx="1647.55" cy="766.8" r="2.9" fill="#008000" stroke="#000" stroke-width="0.7"/>
<text transform="translate(1681,773.5) scale(1,1.035)" class="t">N2V-S</text>
<path d="M1628.2 794.1H1666.9" stroke="#ffa500" stroke-width="1.3"/>
<path d="M1647.55 791.3L1650.35 796.9L1644.75 796.9Z" fill="#ffa500" stroke="#000" stroke-width="0.7"/>
<text transform="translate(1681,800.8) scale(1,1.035)" class="t">N2V-H</text>
<path d="M1628.2 821.4H1666.9" stroke="#800080" stroke-width="1.3"/>
<path d="M1647.55 824.2L1650.35 818.6L1644.75 818.6Z" fill="#800080" stroke="#000" stroke-width="0.7"/>
<text transform="translate(1681,828.1) scale(1,1.035)" class="t">PD</text>
<rect x="1612" y="536.2" width="405.9" height="312" fill="none" stroke="#000" stroke-width="1.3"/>
<text transform="translate(1608.35,853.3) scale(1,1.035)" class="t" text-anchor="end">0.30</text>
<text transform="translate(1608.35,766.63) scale(1,1.035)" class="t" text-anchor="end">0.35</text>
<text transform="translate(1608.35,679.97) scale(1,1.035)" class="t" text-anchor="end">0.40</text>
<text transform="translate(1608.35,593.3) scale(1,1.035)" class="t" text-anchor="end">0.45</text>
<path d="M1612 848.2V844.2M1612 536.2V540.2M1662.74 848.2V844.2M1662.74 536.2V540.2M1713.47 848.2V844.2M1713.47 536.2V540.2M1764.21 848.2V844.2M1764.21 536.2V540.2M1814.95 848.2V844.2M1814.95 536.2V540.2M1865.69 848.2V844.2M1865.69 536.2V540.2M1916.42 848.2V844.2M1916.42 536.2V540.2M1967.16 848.2V844.2M1967.16 536.2V540.2M2017.9 848.2V844.2M2017.9 536.2V540.2M1612 848.2H1616M2017.9 848.2H2013.9M1612 761.53H1616M2017.9 761.53H2013.9M1612 674.87H1616M2017.9 674.87H2013.9M1612 588.2H1616M2017.9 588.2H2013.9" stroke="#000" stroke-width="1.0" fill="none"/>
<text transform="translate(1612,866.7) scale(1,1.035)" class="t" text-anchor="middle">0.1</text>
<text transform="translate(1662.74,866.7) scale(1,1.035)" class="t" text-anchor="middle">0.2</text>
<text transform="translate(1713.47,866.7) scale(1,1.035)" class="t" text-anchor="middle">0.3</text>
<text transform="translate(1764.21,866.7) scale(1,1.035)" class="t" text-anchor="middle">0.4</text>
<text transform="translate(1814.95,866.7) scale(1,1.035)" class="t" text-anchor="middle">0.5</text>
<text transform="translate(1865.69,866.7) scale(1,1.035)" class="t" text-anchor="middle">0.6</text>
<text transform="translate(1916.42,866.7) scale(1,1.035)" class="t" text-anchor="middle">0.7</text>
<text transform="translate(1967.16,866.7) scale(1,1.035)" class="t" text-anchor="middle">0.8</text>
<text transform="translate(2017.9,866.7) scale(1,1.035)" class="t" text-anchor="middle">0.9</text>
<text x="1600.52" y="895.5" class="ax" textLength="430.24" lengthAdjust="spacingAndGlyphs">Fraction of Labeled Training Data</text>
<text x="-0.35" y="0" class="ax" textLength="67.92" lengthAdjust="spacingAndGlyphs" transform="translate(1557.2,725.65) rotate(-90)">Score</text>
<text x="1563.42" y="972.9" class="capb" textLength="57.75" lengthAdjust="spacingAndGlyphs">(h)</text>
<text x="1637.12" y="972.9" class="cap" textLength="337.78" lengthAdjust="spacingAndGlyphs">Micro Facebook</text>
<clipPath id="clipi"><rect x="75.5" y="1076.9" width="405.9" height="304"/></clipPath>
<g clip-path="url(#clipi)">
<path d="M75.5 1277L126.24 1272.6L176.97 1282.6L227.71 1298L278.45 1299.6L329.19 1296.6L379.92 1294.4L430.66 1286.4L481.4 1291L481.4 1317L430.66 1306.4L379.92 1308.4L329.19 1304.6L278.45 1315.6L227.71 1304L176.97 1294.6L126.24 1292.6L75.5 1285Z" fill="#ff0000" fill-opacity="0.1"/>
<path d="M75.5 1194L126.24 1173.4L176.97 1177.6L227.71 1146L278.45 1135.4L329.19 1173.6L379.92 1179L430.66 1179L481.4 1103L481.4 1197L430.66 1193L379.92 1193L329.19 1201.6L278.45 1177.4L227.71 1184L176.97 1199.6L126.24 1205.4L75.5 1214Z" fill="#0000ff" fill-opacity="0.1"/>
<path d="M75.5 1174L126.24 1164L176.97 1168.6L227.71 1152L278.45 1167L329.19 1154.6L379.92 1156.6L430.66 1150.4L481.4 1191.4L481.4 1211.4L430.66 1200.4L379.92 1194.6L329.19 1174.6L278.45 1237L227.71 1168L176.97 1180.6L126.24 1180L75.5 1194Z" fill="#008000" fill-opacity="0.1"/>
<path d="M75.5 1189.4L126.24 1157L176.97 1158L227.71 1132L278.45 1163L329.19 1147.6L379.92 1150L430.66 1138.4L481.4 1166L481.4 1226L430.66 1146.4L379.92 1188L329.19 1187.6L278.45 1187L227.71 1172L176.97 1194L126.24 1181L75.5 1201.4Z" fill="#ffa500" fill-opacity="0.1"/>
<path d="M75.5 1350.6L126.24 1350.6L176.97 1351.6L227.71 1350L278.45 1351L329.19 1351.6L379.92 1350.6L430.66 1349.6L481.4 1345L481.4 1349L430.66 1357.6L379.92 1356.6L329.19 1356.4L278.45 1355.8L227.71 1354.8L176.97 1356.4L126.24 1355.4L75.5 1355.4Z" fill="#800080" fill-opacity="0.1"/>
<path d="M75.5 1281L126.24 1282.6L176.97 1288.6L227.71 1301L278.45 1307.6L329.19 1300.6L379.92 1301.4L430.66 1296.4L481.4 1304" fill="none" stroke="#ff0000" stroke-width="1.25" stroke-linejoin="round"/>
<path d="M75.5 1276.8L77.8 1281L75.5 1285.2L73.2 1281Z" fill="#ff0000" stroke="#000" stroke-width="0.7"/>
<path d="M126.24 1278.4L128.54 1282.6L126.24 1286.8L123.94 1282.6Z" fill="#ff0000" stroke="#000" stroke-width="0.7"/>
<path d="M176.97 1284.4L179.28 1288.6L176.97 1292.8L174.67 1288.6Z" fill="#ff0000" stroke="#000" stroke-width="0.7"/>
<path d="M227.71 1296.8L230.01 1301L227.71 1305.2L225.41 1301Z" fill="#ff0000" stroke="#000" stroke-width="0.7"/>
<path d="M278.45 1303.4L280.75 1307.6L278.45 1311.8L276.15 1307.6Z" fill="#ff0000" stroke="#000" stroke-width="0.7"/>
<path d="M329.19 1296.4L331.49 1300.6L329.19 1304.8L326.89 1300.6Z" fill="#ff0000" stroke="#000" stroke-width="0.7"/>
<path d="M379.92 1297.2L382.22 1301.4L379.92 1305.6L377.62 1301.4Z" fill="#ff0000" stroke="#000" stroke-width="0.7"/>
<path d="M430.66 1292.2L432.96 1296.4L430.66 1300.6L428.36 1296.4Z" fill="#ff0000" stroke="#000" stroke-width="0.7"/>
<path d="M481.4 1299.8L483.7 1304L481.4 1308.2L479.1 1304Z" fill="#ff0000" stroke="#000" stroke-width="0.7"/>
<path d="M75.5 1204L126.24 1189.4L176.97 1188.6L227.71 1165L278.45 1156.4L329.19 1187.6L379.92 1186L430.66 1186L481.4 1150" fill="none" stroke="#0000ff" stroke-width="1.25" stroke-linejoin="round"/>
<path d="M72.4 1204H78.6M75.5 1200.9V1207.1" stroke="#0000ff" stroke-width="1.1" fill="none"/>
<path d="M123.14 1189.4H129.34M126.24 1186.3V1192.5" stroke="#0000ff" stroke-width="1.1" fill="none"/>
<path d="M173.88 1188.6H180.07M176.97 1185.5V1191.7" stroke="#0000ff" stroke-width="1.1" fill="none"/>
<path d="M224.61 1165H230.81M227.71 1161.9V1168.1" stroke="#0000ff" stroke-width="1.1" fill="none"/>
<path d="M275.35 1156.4H281.55M278.45 1153.3V1159.5" stroke="#0000ff" stroke-width="1.1" fill="none"/>
<path d="M326.09 1187.6H332.29M329.19 1184.5V1190.7" stroke="#0000ff" stroke-width="1.1" fill="none"/>
<path d="M376.82 1186H383.02M379.92 1182.9V1189.1" stroke="#0000ff" stroke-width="1.1" fill="none"/>
<path d="M427.56 1186H433.76M430.66 1182.9V1189.1" stroke="#0000ff" stroke-width="1.1" fill="none"/>
<path d="M478.3 1150H484.5M481.4 1146.9V1153.1" stroke="#0000ff" stroke-width="1.1" fill="none"/>
<path d="M75.5 1184L126.24 1172L176.97 1174.6L227.71 1160L278.45 1202L329.19 1164.6L379.92 1175.6L430.66 1175.4L481.4 1201.4" fill="none" stroke="#008000" stroke-width="1.25" stroke-linejoin="round"/>
<circle cx="75.5" cy="1184" r="2.9" fill="#008000" stroke="#000" stroke-width="0.7"/>
<circle cx="126.24" cy="1172" r="2.9" fill="#008000" stroke="#000" stroke-width="0.7"/>
<circle cx="176.97" cy="1174.6" r="2.9" fill="#008000" stroke="#000" stroke-width="0.7"/>
<circle cx="227.71" cy="1160" r="2.9" fill="#008000" stroke="#000" stroke-width="0.7"/>
<circle cx="278.45" cy="1202" r="2.9" fill="#008000" stroke="#000" stroke-width="0.7"/>
<circle cx="329.19" cy="1164.6" r="2.9" fill="#008000" stroke="#000" stroke-width="0.7"/>
<circle cx="379.92" cy="1175.6" r="2.9" fill="#008000" stroke="#000" stroke-width="0.7"/>
<circle cx="430.66" cy="1175.4" r="2.9" fill="#008000" stroke="#000" stroke-width="0.7"/>
<circle cx="481.4" cy="1201.4" r="2.9" fill="#008000" stroke="#000" stroke-width="0.7"/>
<path d="M75.5 1195.4L126.24 1169L176.97 1176L227.71 1152L278.45 1175L329.19 1167.6L379.92 1169L430.66 1142.4L481.4 1196" fill="none" stroke="#ffa500" stroke-width="1.25" stroke-linejoin="round"/>
<path d="M75.5 1192.6L78.3 1198.2L72.7 1198.2Z" fill="#ffa500" stroke="#000" stroke-width="0.7"/>
<path d="M126.24 1166.2L129.04 1171.8L123.44 1171.8Z" fill="#ffa500" stroke="#000" stroke-width="0.7"/>
<path d="M176.97 1173.2L179.78 1178.8L174.17 1178.8Z" fill="#ffa500" stroke="#000" stroke-width="0.7"/>
<path d="M227.71 1149.2L230.51 1154.8L224.91 1154.8Z" fill="#ffa500" stroke="#000" stroke-width="0.7"/>
<path d="M278.45 1172.2L281.25 1177.8L275.65 1177.8Z" fill="#ffa500" stroke="#000" stroke-width="0.7"/>
<path d="M329.19 1164.8L331.99 1170.4L326.39 1170.4Z" fill="#ffa500" stroke="#000" stroke-width="0.7"/>
<path d="M379.92 1166.2L382.72 1171.8L377.12 1171.8Z" fill="#ffa500" stroke="#000" stroke-width="0.7"/>
<path d="M430.66 1139.6L433.46 1145.2L427.86 1145.2Z" fill="#ffa500" stroke="#000" stroke-width="0.7"/>
<path d="M481.4 1193.2L484.2 1198.8L478.6 1198.8Z" fill="#ffa500" stroke="#000" stroke-width="0.7"/>
<path d="M75.5 1353L126.24 1353L176.97 1354L227.71 1352.4L278.45 1353.4L329.19 1354L379.92 1353.6L430.66 1353.6L481.4 1347" fill="none" stroke="#800080" stroke-width="1.25" stroke-linejoin="round"/>
<path d="M75.5 1355.8L78.3 1350.2L72.7 1350.2Z" fill="#800080" stroke="#000" stroke-width="0.7"/>
<path d="M126.24 1355.8L129.04 1350.2L123.44 1350.2Z" fill="#800080" stroke="#000" stroke-width="0.7"/>
<path d="M176.97 1356.8L179.78 1351.2L174.17 1351.2Z" fill="#800080" stroke="#000" stroke-width="0.7"/>
<path d="M227.71 1355.2L230.51 1349.6L224.91 1349.6Z" fill="#800080" stroke="#000" stroke-width="0.7"/>
<path d="M278.45 1356.2L281.25 1350.6L275.65 1350.6Z" fill="#800080" stroke="#000" stroke-width="0.7"/>
<path d="M329.19 1356.8L331.99 1351.2L326.39 1351.2Z" fill="#800080" stroke="#000" stroke-width="0.7"/>
<path d="M379.92 1356.4L382.72 1350.8L377.12 1350.8Z" fill="#800080" stroke="#000" stroke-width="0.7"/>
<path d="M430.66 1356.4L433.46 1350.8L427.86 1350.8Z" fill="#800080" stroke="#000" stroke-width="0.7"/>
<path d="M481.4 1349.8L484.2 1344.2L478.6 1344.2Z" fill="#800080" stroke="#000" stroke-width="0.7"/>
</g>
<path d="M91.8 1244.6H130.5" stroke="#ff0000" stroke-width="1.3"/>
<path d="M111.15 1240.4L113.45 1244.6L111.15 1248.8L108.85 1244.6Z" fill="#ff0000" stroke="#000" stroke-width="0.7"/>
<text transform="translate(144.6,1251.3) scale(1,1.035)" class="t">SDNE</text>
<path d="M91.8 1271.85H130.5" stroke="#0000ff" stroke-width="1.3"/>
<path d="M108.05 1271.85H114.25M111.15 1268.75V1274.95" stroke="#0000ff" stroke-width="1.1" fill="none"/>
<text transform="translate(144.6,1278.55) scale(1,1.035)" class="t">DeepWalk</text>
<path d="M91.8 1299.1H130.5" stroke="#008000" stroke-width="1.3"/>
<circle cx="111.15" cy="1299.1" r="2.9" fill="#008000" stroke="#000" stroke-width="0.7"/>
<text transform="translate(144.6,1305.8) scale(1,1.035)" class="t">N2V-S</text>
<path d="M91.8 1326.35H130.5" stroke="#ffa500" stroke-width="1.3"/>
<path d="M111.15 1323.55L113.95 1329.15L108.35 1329.15Z" fill="#ffa500" stroke="#000" stroke-width="0.7"/>
<text transform="translate(144.6,1333.05) scale(1,1.035)" class="t">N2V-H</text>
<path d="M91.8 1353.6H130.5" stroke="#800080" stroke-width="1.3"/>
<path d="M111.15 1356.4L113.95 1350.8L108.35 1350.8Z" fill="#800080" stroke="#000" stroke-width="0.7"/>
<text transform="translate(144.6,1360.3) scale(1,1.035)" class="t">PD</text>
<rect x="75.5" y="1076.9" width="405.9" height="304" fill="none" stroke="#000" stroke-width="1.3"/>
<text transform="translate(71.85,1386) scale(1,1.035)" class="t" text-anchor="end">0.10</text>
<text transform="translate(71.85,1325.2) scale(1,1.035)" class="t" text-anchor="end">0.15</text>
<text transform="translate(71.85,1264.4) scale(1,1.035)" class="t" text-anchor="end">0.20</text>
<text transform="translate(71.85,1203.6) scale(1,1.035)" class="t" text-anchor="end">0.25</text>
<text transform="translate(71.85,1142.8) scale(1,1.035)" class="t" text-anchor="end">0.30</text>
<text transform="translate(71.85,1082) scale(1,1.035)" class="t" text-anchor="end">0.35</text>
<path d="M75.5 1380.9V1376.9M75.5 1076.9V1080.9M126.24 1380.9V1376.9M126.24 1076.9V1080.9M176.97 1380.9V1376.9M176.97 1076.9V1080.9M227.71 1380.9V1376.9M227.71 1076.9V1080.9M278.45 1380.9V1376.9M278.45 1076.9V1080.9M329.19 1380.9V1376.9M329.19 1076.9V1080.9M379.92 1380.9V1376.9M379.92 1076.9V1080.9M430.66 1380.9V1376.9M430.66 1076.9V1080.9M481.4 1380.9V1376.9M481.4 1076.9V1080.9M75.5 1380.9H79.5M481.4 1380.9H477.4M75.5 1320.1H79.5M481.4 1320.1H477.4M75.5 1259.3H79.5M481.4 1259.3H477.4M75.5 1198.5H79.5M481.4 1198.5H477.4M75.5 1137.7H79.5M481.4 1137.7H477.4M75.5 1076.9H79.5M481.4 1076.9H477.4" stroke="#000" stroke-width="1.0" fill="none"/>
<text transform="translate(75.5,1399.4) scale(1,1.035)" class="t" text-anchor="middle">0.1</text>
<text transform="translate(126.24,1399.4) scale(1,1.035)" class="t" text-anchor="middle">0.2</text>
<text transform="translate(176.97,1399.4) scale(1,1.035)" class="t" text-anchor="middle">0.3</text>
<text transform="translate(227.71,1399.4) scale(1,1.035)" class="t" text-anchor="middle">0.4</text>
<text transform="translate(278.45,1399.4) scale(1,1.035)" class="t" text-anchor="middle">0.5</text>
<text transform="translate(329.19,1399.4) scale(1,1.035)" class="t" text-anchor="middle">0.6</text>
<text transform="translate(379.92,1399.4) scale(1,1.035)" class="t" text-anchor="middle">0.7</text>
<text transform="translate(430.66,1399.4) scale(1,1.035)" class="t" text-anchor="middle">0.8</text>
<text transform="translate(481.4,1399.4) scale(1,1.035)" class="t" text-anchor="middle">0.9</text>
<text x="64.02" y="1428.2" class="ax" textLength="430.24" lengthAdjust="spacingAndGlyphs">Fraction of Labeled Training Data</text>
<text x="-0.35" y="0" class="ax" textLength="67.92" lengthAdjust="spacingAndGlyphs" transform="translate(20.7,1262.35) rotate(-90)">Score</text>
<text x="5.32" y="1505.6" class="capb" textLength="44.77" lengthAdjust="spacingAndGlyphs">(i)</text>
<text x="65.5" y="1505.6" class="cap" textLength="394.78" lengthAdjust="spacingAndGlyphs">Macro Openflights</text>
<clipPath id="clipj"><rect x="587.8" y="1076.9" width="405.9" height="304"/></clipPath>
<g clip-path="url(#clipj)">
<path d="M587.8 1276.6L638.54 1263L689.27 1279L740.01 1240.6L790.75 1232.6L841.49 1234.4L892.22 1238L942.96 1266L993.7 1158L993.7 1274L942.96 1310L892.22 1260L841.49 1320.4L790.75 1340.6L740.01 1280.6L689.27 1287L638.54 1287L587.8 1284.6Z" fill="#ff0000" fill-opacity="0.1"/>
<path d="M587.8 1199L638.54 1193L689.27 1179.4L740.01 1172.6L790.75 1175.4L841.49 1173.6L892.22 1184.4L942.96 1193L993.7 1090L993.7 1194L942.96 1209L892.22 1214.4L841.49 1193.6L790.75 1183.4L740.01 1200.6L689.27 1201.4L638.54 1225L587.8 1215Z" fill="#0000ff" fill-opacity="0.1"/>
<path d="M587.8 1195.6L638.54 1182L689.27 1171.6L740.01 1169.6L790.75 1177L841.49 1168.6L892.22 1166.6L942.96 1182.6L993.7 1169L993.7 1189L942.96 1198.6L892.22 1186.6L841.49 1180.6L790.75 1189L740.01 1175.6L689.27 1189.6L638.54 1198L587.8 1215.6Z" fill="#008000" fill-opacity="0.1"/>
<path d="M587.8 1195.4L638.54 1189L689.27 1184.4L740.01 1173L790.75 1171L841.49 1157L892.22 1174.6L942.96 1155.4L993.7 1135L993.7 1219L942.96 1183.4L892.22 1194.6L841.49 1201L790.75 1191L740.01 1185L689.27 1196.4L638.54 1201L587.8 1219.4Z" fill="#ffa500" fill-opacity="0.1"/>
<path d="M587.8 1201L638.54 1198.6L689.27 1202.6L740.01 1197.6L790.75 1200.6L841.49 1204L892.22 1193L942.96 1189L993.7 1167.4L993.7 1191.4L942.96 1231L892.22 1225L841.49 1222L790.75 1216.6L740.01 1209.6L689.27 1218.6L638.54 1210.6L587.8 1213Z" fill="#800080" fill-opacity="0.1"/>
<path d="M587.8 1280.6L638.54 1275L689.27 1283L740.01 1260.6L790.75 1286.6L841.49 1277.4L892.22 1249L942.96 1288L993.7 1216" fill="none" stroke="#ff0000" stroke-width="1.25" stroke-linejoin="round"/>
<path d="M587.8 1276.4L590.1 1280.6L587.8 1284.8L585.5 1280.6Z" fill="#ff0000" stroke="#000" stroke-width="0.7"/>
<path d="M638.54 1270.8L640.84 1275L638.54 1279.2L636.24 1275Z" fill="#ff0000" stroke="#000" stroke-width="0.7"/>
<path d="M689.27 1278.8L691.57 1283L689.27 1287.2L686.98 1283Z" fill="#ff0000" stroke="#000" stroke-width="0.7"/>
<path d="M740.01 1256.4L742.31 1260.6L740.01 1264.8L737.71 1260.6Z" fill="#ff0000" stroke="#000" stroke-width="0.7"/>
<path d="M790.75 1282.4L793.05 1286.6L790.75 1290.8L788.45 1286.6Z" fill="#ff0000" stroke="#000" stroke-width="0.7"/>
<path d="M841.49 1273.2L843.79 1277.4L841.49 1281.6L839.19 1277.4Z" fill="#ff0000" stroke="#000" stroke-width="0.7"/>
<path d="M892.22 1244.8L894.52 1249L892.22 1253.2L889.92 1249Z" fill="#ff0000" stroke="#000" stroke-width="0.7"/>
<path d="M942.96 1283.8L945.26 1288L942.96 1292.2L940.66 1288Z" fill="#ff0000" stroke="#000" stroke-width="0.7"/>
<path d="M993.7 1211.8L996 1216L993.7 1220.2L991.4 1216Z" fill="#ff0000" stroke="#000" stroke-width="0.7"/>
<path d="M587.8 1207L638.54 1209L689.27 1190.4L740.01 1186.6L790.75 1179.4L841.49 1183.6L892.22 1199.4L942.96 1201L993.7 1142" fill="none" stroke="#0000ff" stroke-width="1.25" stroke-linejoin="round"/>
<path d="M584.7 1207H590.9M587.8 1203.9V1210.1" stroke="#0000ff" stroke-width="1.1" fill="none"/>
<path d="M635.44 1209H641.64M638.54 1205.9V1212.1" stroke="#0000ff" stroke-width="1.1" fill="none"/>
<path d="M686.17 1190.4H692.38M689.27 1187.3V1193.5" stroke="#0000ff" stroke-width="1.1" fill="none"/>
<path d="M736.91 1186.6H743.11M740.01 1183.5V1189.7" stroke="#0000ff" stroke-width="1.1" fill="none"/>
<path d="M787.65 1179.4H793.85M790.75 1176.3V1182.5" stroke="#0000ff" stroke-width="1.1" fill="none"/>
<path d="M838.39 1183.6H844.59M841.49 1180.5V1186.7" stroke="#0000ff" stroke-width="1.1" fill="none"/>
<path d="M889.12 1199.4H895.32M892.22 1196.3V1202.5" stroke="#0000ff" stroke-width="1.1" fill="none"/>
<path d="M939.86 1201H946.06M942.96 1197.9V1204.1" stroke="#0000ff" stroke-width="1.1" fill="none"/>
<path d="M990.6 1142H996.8M993.7 1138.9V1145.1" stroke="#0000ff" stroke-width="1.1" fill="none"/>
<path d="M587.8 1205.6L638.54 1190L689.27 1180.6L740.01 1172.6L790.75 1183L841.49 1174.6L892.22 1176.6L942.96 1190.6L993.7 1179" fill="none" stroke="#008000" stroke-width="1.25" stroke-linejoin="round"/>
<circle cx="587.8" cy="1205.6" r="2.9" fill="#008000" stroke="#000" stroke-width="0.7"/>
<circle cx="638.54" cy="1190" r="2.9" fill="#008000" stroke="#000" stroke-width="0.7"/>
<circle cx="689.27" cy="1180.6" r="2.9" fill="#008000" stroke="#000" stroke-width="0.7"/>
<circle cx="740.01" cy="1172.6" r="2.9" fill="#008000" stroke="#000" stroke-width="0.7"/>
<circle cx="790.75" cy="1183" r="2.9" fill="#008000" stroke="#000" stroke-width="0.7"/>
<circle cx="841.49" cy="1174.6" r="2.9" fill="#008000" stroke="#000" stroke-width="0.7"/>
<circle cx="892.22" cy="1176.6" r="2.9" fill="#008000" stroke="#000" stroke-width="0.7"/>
<circle cx="942.96" cy="1190.6" r="2.9" fill="#008000" stroke="#000" stroke-width="0.7"/>
<circle cx="993.7" cy="1179" r="2.9" fill="#008000" stroke="#000" stroke-width="0.7"/>
<path d="M587.8 1207.4L638.54 1195L689.27 1190.4L740.01 1179L790.75 1181L841.49 1179L892.22 1184.6L942.96 1169.4L993.7 1177" fill="none" stroke="#ffa500" stroke-width="1.25" stroke-linejoin="round"/>
<path d="M587.8 1204.6L590.6 1210.2L585 1210.2Z" fill="#ffa500" stroke="#000" stroke-width="0.7"/>
<path d="M638.54 1192.2L641.34 1197.8L635.74 1197.8Z" fill="#ffa500" stroke="#000" stroke-width="0.7"/>
<path d="M689.27 1187.6L692.07 1193.2L686.48 1193.2Z" fill="#ffa500" stroke="#000" stroke-width="0.7"/>
<path d="M740.01 1176.2L742.81 1181.8L737.21 1181.8Z" fill="#ffa500" stroke="#000" stroke-width="0.7"/>
<path d="M790.75 1178.2L793.55 1183.8L787.95 1183.8Z" fill="#ffa500" stroke="#000" stroke-width="0.7"/>
<path d="M841.49 1176.2L844.29 1181.8L838.69 1181.8Z" fill="#ffa500" stroke="#000" stroke-width="0.7"/>
<path d="M892.22 1181.8L895.02 1187.4L889.42 1187.4Z" fill="#ffa500" stroke="#000" stroke-width="0.7"/>
<path d="M942.96 1166.6L945.76 1172.2L940.16 1172.2Z" fill="#ffa500" stroke="#000" stroke-width="0.7"/>
<path d="M993.7 1174.2L996.5 1179.8L990.9 1179.8Z" fill="#ffa500" stroke="#000" stroke-width="0.7"/>
<path d="M587.8 1207L638.54 1204.6L689.27 1210.6L740.01 1203.6L790.75 1208.6L841.49 1213L892.22 1209L942.96 1210L993.7 1179.4" fill="none" stroke="#800080" stroke-width="1.25" stroke-linejoin="round"/>
<path d="M587.8 1209.8L590.6 1204.2L585 1204.2Z" fill="#800080" stroke="#000" stroke-width="0.7"/>
<path d="M638.54 1207.4L641.34 1201.8L635.74 1201.8Z" fill="#800080" stroke="#000" stroke-width="0.7"/>
<path d="M689.27 1213.4L692.07 1207.8L686.48 1207.8Z" fill="#800080" stroke="#000" stroke-width="0.7"/>
<path d="M740.01 1206.4L742.81 1200.8L737.21 1200.8Z" fill="#800080" stroke="#000" stroke-width="0.7"/>
<path d="M790.75 1211.4L793.55 1205.8L787.95 1205.8Z" fill="#800080" stroke="#000" stroke-width="0.7"/>
<path d="M841.49 1215.8L844.29 1210.2L838.69 1210.2Z" fill="#800080" stroke="#000" stroke-width="0.7"/>
<path d="M892.22 1211.8L895.02 1206.2L889.42 1206.2Z" fill="#800080" stroke="#000" stroke-width="0.7"/>
<path d="M942.96 1212.8L945.76 1207.2L940.16 1207.2Z" fill="#800080" stroke="#000" stroke-width="0.7"/>
<path d="M993.7 1182.2L996.5 1176.6L990.9 1176.6Z" fill="#800080" stroke="#000" stroke-width="0.7"/>
</g>
<path d="M603.8 1244.6H642.5" stroke="#ff0000" stroke-width="1.3"/>
<path d="M623.15 1240.4L625.45 1244.6L623.15 1248.8L620.85 1244.6Z" fill="#ff0000" stroke="#000" stroke-width="0.7"/>
<text transform="translate(656.6,1251.3) scale(1,1.035)" class="t">SDNE</text>
<path d="M603.8 1271.85H642.5" stroke="#0000ff" stroke-width="1.3"/>
<path d="M620.05 1271.85H626.25M623.15 1268.75V1274.95" stroke="#0000ff" stroke-width="1.1" fill="none"/>
<text transform="translate(656.6,1278.55) scale(1,1.035)" class="t">DeepWalk</text>
<path d="M603.8 1299.1H642.5" stroke="#008000" stroke-width="1.3"/>
<circle cx="623.15" cy="1299.1" r="2.9" fill="#008000" stroke="#000" stroke-width="0.7"/>
<text transform="translate(656.6,1305.8) scale(1,1.035)" class="t">N2V-S</text>
<path d="M603.8 1326.35H642.5" stroke="#ffa500" stroke-width="1.3"/>
<path d="M623.15 1323.55L625.95 1329.15L620.35 1329.15Z" fill="#ffa500" stroke="#000" stroke-width="0.7"/>
<text transform="translate(656.6,1333.05) scale(1,1.035)" class="t">N2V-H</text>
<path d="M603.8 1353.6H642.5" stroke="#800080" stroke-width="1.3"/>
<path d="M623.15 1356.4L625.95 1350.8L620.35 1350.8Z" fill="#800080" stroke="#000" stroke-width="0.7"/>
<text transform="translate(656.6,1360.3) scale(1,1.035)" class="t">PD</text>
<rect x="587.8" y="1076.9" width="405.9" height="304" fill="none" stroke="#000" stroke-width="1.3"/>
<text transform="translate(584.15,1386) scale(1,1.035)" class="t" text-anchor="end">0.30</text>
<text transform="translate(584.15,1325.2) scale(1,1.035)" class="t" text-anchor="end">0.35</text>
<text transform="translate(584.15,1264.4) scale(1,1.035)" class="t" text-anchor="end">0.40</text>
<text transform="translate(584.15,1203.6) scale(1,1.035)" class="t" text-anchor="end">0.45</text>
<text transform="translate(584.15,1142.8) scale(1,1.035)" class="t" text-anchor="end">0.50</text>
<text transform="translate(584.15,1082) scale(1,1.035)" class="t" text-anchor="end">0.55</text>
<path d="M587.8 1380.9V1376.9M587.8 1076.9V1080.9M638.54 1380.9V1376.9M638.54 1076.9V1080.9M689.27 1380.9V1376.9M689.27 1076.9V1080.9M740.01 1380.9V1376.9M740.01 1076.9V1080.9M790.75 1380.9V1376.9M790.75 1076.9V1080.9M841.49 1380.9V1376.9M841.49 1076.9V1080.9M892.22 1380.9V1376.9M892.22 1076.9V1080.9M942.96 1380.9V1376.9M942.96 1076.9V1080.9M993.7 1380.9V1376.9M993.7 1076.9V1080.9M587.8 1380.9H591.8M993.7 1380.9H989.7M587.8 1320.1H591.8M993.7 1320.1H989.7M587.8 1259.3H591.8M993.7 1259.3H989.7M587.8 1198.5H591.8M993.7 1198.5H989.7M587.8 1137.7H591.8M993.7 1137.7H989.7M587.8 1076.9H591.8M993.7 1076.9H989.7" stroke="#000" stroke-width="1.0" fill="none"/>
<text transform="translate(587.8,1399.4) scale(1,1.035)" class="t" text-anchor="middle">0.1</text>
<text transform="translate(638.54,1399.4) scale(1,1.035)" class="t" text-anchor="middle">0.2</text>
<text transform="translate(689.27,1399.4) scale(1,1.035)" class="t" text-anchor="middle">0.3</text>
<text transform="translate(740.01,1399.4) scale(1,1.035)" class="t" text-anchor="middle">0.4</text>
<text transform="translate(790.75,1399.4) scale(1,1.035)" class="t" text-anchor="middle">0.5</text>
<text transform="translate(841.49,1399.4) scale(1,1.035)" class="t" text-anchor="middle">0.6</text>
<text transform="translate(892.22,1399.4) scale(1,1.035)" class="t" text-anchor="middle">0.7</text>
<text transform="translate(942.96,1399.4) scale(1,1.035)" class="t" text-anchor="middle">0.8</text>
<text transform="translate(993.7,1399.4) scale(1,1.035)" class="t" text-anchor="middle">0.9</text>
<text x="576.32" y="1428.2" class="ax" textLength="430.24" lengthAdjust="spacingAndGlyphs">Fraction of Labeled Training Data</text>
<text x="-0.35" y="0" class="ax" textLength="67.92" lengthAdjust="spacingAndGlyphs" transform="translate(533,1262.35) rotate(-90)">Score</text>
<text x="522.52" y="1505.6" class="capb" textLength="47.26" lengthAdjust="spacingAndGlyphs">(j)</text>
<text x="585.91" y="1505.6" class="cap" textLength="382.45" lengthAdjust="spacingAndGlyphs">Micro Openflights</text>
<clipPath id="clipk"><rect x="1099.9" y="1076.9" width="405.9" height="304"/></clipPath>
<g clip-path="url(#clipk)">
<path d="M1099.9 1286L1150.64 1317.6L1201.38 1291L1252.11 1302.4L1302.85 1312L1353.59 1310L1404.33 1305L1455.06 1308.6L1505.8 1266L1505.8 1318L1455.06 1336.6L1404.33 1325L1353.59 1342L1302.85 1336L1252.11 1330.4L1201.38 1321L1150.64 1345.6L1099.9 1330Z" fill="#ff0000" fill-opacity="0.1"/>
<path d="M1099.9 1160.4L1150.64 1174.4L1201.38 1330.6L1252.11 1245.4L1302.85 1288.6L1353.59 1259.6L1404.33 1309L1455.06 1276.6L1505.8 1193L1505.8 1285L1455.06 1314.6L1404.33 1325L1353.59 1293.6L1302.85 1328.6L1252.11 1329.4L1201.38 1340.6L1150.64 1294.4L1099.9 1298.4Z" fill="#0000ff" fill-opacity="0.1"/>
<path d="M1099.9 1102L1150.64 1306.6L1201.38 1290L1252.11 1225.6L1302.85 1297L1353.59 1296.6L1404.33 1329.6L1455.06 1308.6L1505.8 1272L1505.8 1312L1455.06 1328.6L1404.33 1345.6L1353.59 1324.6L1302.85 1333L1252.11 1349.6L1201.38 1314L1150.64 1342.6L1099.9 1294Z" fill="#008000" fill-opacity="0.1"/>
<path d="M1099.9 1202L1150.64 1190.4L1201.38 1290L1252.11 1314.6L1302.85 1308L1353.59 1322L1404.33 1283.4L1455.06 1283.6L1505.8 1144L1505.8 1264L1455.06 1343.6L1404.33 1307.4L1353.59 1342L1302.85 1320L1252.11 1330.6L1201.38 1318L1150.64 1336.4L1099.9 1294Z" fill="#ffa500" fill-opacity="0.1"/>
<path d="M1099.9 1351L1150.64 1353L1201.38 1350L1252.11 1352.6L1302.85 1348.2L1353.59 1349L1404.33 1348.4L1455.06 1354L1505.8 1355.6L1505.8 1363.6L1455.06 1361.2L1404.33 1354.4L1353.59 1353.8L1302.85 1353L1252.11 1356.6L1201.38 1354L1150.64 1357L1099.9 1355Z" fill="#800080" fill-opacity="0.1"/>
<path d="M1099.9 1308L1150.64 1331.6L1201.38 1306L1252.11 1316.4L1302.85 1324L1353.59 1326L1404.33 1315L1455.06 1322.6L1505.8 1292" fill="none" stroke="#ff0000" stroke-width="1.25" stroke-linejoin="round"/>
<path d="M1099.9 1303.8L1102.2 1308L1099.9 1312.2L1097.6 1308Z" fill="#ff0000" stroke="#000" stroke-width="0.7"/>
<path d="M1150.64 1327.4L1152.94 1331.6L1150.64 1335.8L1148.34 1331.6Z" fill="#ff0000" stroke="#000" stroke-width="0.7"/>
<path d="M1201.38 1301.8L1203.67 1306L1201.38 1310.2L1199.08 1306Z" fill="#ff0000" stroke="#000" stroke-width="0.7"/>
<path d="M1252.11 1312.2L1254.41 1316.4L1252.11 1320.6L1249.81 1316.4Z" fill="#ff0000" stroke="#000" stroke-width="0.7"/>
<path d="M1302.85 1319.8L1305.15 1324L1302.85 1328.2L1300.55 1324Z" fill="#ff0000" stroke="#000" stroke-width="0.7"/>
<path d="M1353.59 1321.8L1355.89 1326L1353.59 1330.2L1351.29 1326Z" fill="#ff0000" stroke="#000" stroke-width="0.7"/>
<path d="M1404.33 1310.8L1406.62 1315L1404.33 1319.2L1402.03 1315Z" fill="#ff0000" stroke="#000" stroke-width="0.7"/>
<path d="M1455.06 1318.4L1457.36 1322.6L1455.06 1326.8L1452.76 1322.6Z" fill="#ff0000" stroke="#000" stroke-width="0.7"/>
<path d="M1505.8 1287.8L1508.1 1292L1505.8 1296.2L1503.5 1292Z" fill="#ff0000" stroke="#000" stroke-width="0.7"/>
<path d="M1099.9 1229.4L1150.64 1234.4L1201.38 1335.6L1252.11 1287.4L1302.85 1308.6L1353.59 1276.6L1404.33 1317L1455.06 1295.6L1505.8 1239" fill="none" stroke="#0000ff" stroke-width="1.25" stroke-linejoin="round"/>
<path d="M1096.8 1229.4H1103M1099.9 1226.3V1232.5" stroke="#0000ff" stroke-width="1.1" fill="none"/>
<path d="M1147.54 1234.4H1153.74M1150.64 1231.3V1237.5" stroke="#0000ff" stroke-width="1.1" fill="none"/>
<path d="M1198.28 1335.6H1204.47M1201.38 1332.5V1338.7" stroke="#0000ff" stroke-width="1.1" fill="none"/>
<path d="M1249.01 1287.4H1255.21M1252.11 1284.3V1290.5" stroke="#0000ff" stroke-width="1.1" fill="none"/>
<path d="M1299.75 1308.6H1305.95M1302.85 1305.5V1311.7" stroke="#0000ff" stroke-width="1.1" fill="none"/>
<path d="M1350.49 1276.6H1356.69M1353.59 1273.5V1279.7" stroke="#0000ff" stroke-width="1.1" fill="none"/>
<path d="M1401.23 1317H1407.42M1404.33 1313.9V1320.1" stroke="#0000ff" stroke-width="1.1" fill="none"/>
<path d="M1451.96 1295.6H1458.16M1455.06 1292.5V1298.7" stroke="#0000ff" stroke-width="1.1" fill="none"/>
<path d="M1502.7 1239H1508.9M1505.8 1235.9V1242.1" stroke="#0000ff" stroke-width="1.1" fill="none"/>
<path d="M1099.9 1198L1150.64 1324.6L1201.38 1302L1252.11 1287.6L1302.85 1315L1353.59 1310.6L1404.33 1337.6L1455.06 1318.6L1505.8 1292" fill="none" stroke="#008000" stroke-width="1.25" stroke-linejoin="round"/>
<circle cx="1099.9" cy="1198" r="2.9" fill="#008000" stroke="#000" stroke-width="0.7"/>
<circle cx="1150.64" cy="1324.6" r="2.9" fill="#008000" stroke="#000" stroke-width="0.7"/>
<circle cx="1201.38" cy="1302" r="2.9" fill="#008000" stroke="#000" stroke-width="0.7"/>
<circle cx="1252.11" cy="1287.6" r="2.9" fill="#008000" stroke="#000" stroke-width="0.7"/>
<circle cx="1302.85" cy="1315" r="2.9" fill="#008000" stroke="#000" stroke-width="0.7"/>
<circle cx="1353.59" cy="1310.6" r="2.9" fill="#008000" stroke="#000" stroke-width="0.7"/>
<circle cx="1404.33" cy="1337.6" r="2.9" fill="#008000" stroke="#000" stroke-width="0.7"/>
<circle cx="1455.06" cy="1318.6" r="2.9" fill="#008000" stroke="#000" stroke-width="0.7"/>
<circle cx="1505.8" cy="1292" r="2.9" fill="#008000" stroke="#000" stroke-width="0.7"/>
<path d="M1099.9 1248L1150.64 1263.4L1201.38 1304L1252.11 1322.6L1302.85 1314L1353.59 1332L1404.33 1295.4L1455.06 1313.6L1505.8 1204" fill="none" stroke="#ffa500" stroke-width="1.25" stroke-linejoin="round"/>
<path d="M1099.9 1245.2L1102.7 1250.8L1097.1 1250.8Z" fill="#ffa500" stroke="#000" stroke-width="0.7"/>
<path d="M1150.64 1260.6L1153.44 1266.2L1147.84 1266.2Z" fill="#ffa500" stroke="#000" stroke-width="0.7"/>
<path d="M1201.38 1301.2L1204.17 1306.8L1198.58 1306.8Z" fill="#ffa500" stroke="#000" stroke-width="0.7"/>
<path d="M1252.11 1319.8L1254.91 1325.4L1249.31 1325.4Z" fill="#ffa500" stroke="#000" stroke-width="0.7"/>
<path d="M1302.85 1311.2L1305.65 1316.8L1300.05 1316.8Z" fill="#ffa500" stroke="#000" stroke-width="0.7"/>
<path d="M1353.59 1329.2L1356.39 1334.8L1350.79 1334.8Z" fill="#ffa500" stroke="#000" stroke-width="0.7"/>
<path d="M1404.33 1292.6L1407.12 1298.2L1401.53 1298.2Z" fill="#ffa500" stroke="#000" stroke-width="0.7"/>
<path d="M1455.06 1310.8L1457.86 1316.4L1452.26 1316.4Z" fill="#ffa500" stroke="#000" stroke-width="0.7"/>
<path d="M1505.8 1201.2L1508.6 1206.8L1503 1206.8Z" fill="#ffa500" stroke="#000" stroke-width="0.7"/>
<path d="M1099.9 1353L1150.64 1355L1201.38 1352L1252.11 1354.6L1302.85 1350.6L1353.59 1351.4L1404.33 1351.4L1455.06 1357.6L1505.8 1359.6" fill="none" stroke="#800080" stroke-width="1.25" stroke-linejoin="round"/>
<path d="M1099.9 1355.8L1102.7 1350.2L1097.1 1350.2Z" fill="#800080" stroke="#000" stroke-width="0.7"/>
<path d="M1150.64 1357.8L1153.44 1352.2L1147.84 1352.2Z" fill="#800080" stroke="#000" stroke-width="0.7"/>
<path d="M1201.38 1354.8L1204.17 1349.2L1198.58 1349.2Z" fill="#800080" stroke="#000" stroke-width="0.7"/>
<path d="M1252.11 1357.4L1254.91 1351.8L1249.31 1351.8Z" fill="#800080" stroke="#000" stroke-width="0.7"/>
<path d="M1302.85 1353.4L1305.65 1347.8L1300.05 1347.8Z" fill="#800080" stroke="#000" stroke-width="0.7"/>
<path d="M1353.59 1354.2L1356.39 1348.6L1350.79 1348.6Z" fill="#800080" stroke="#000" stroke-width="0.7"/>
<path d="M1404.33 1354.2L1407.12 1348.6L1401.53 1348.6Z" fill="#800080" stroke="#000" stroke-width="0.7"/>
<path d="M1455.06 1360.4L1457.86 1354.8L1452.26 1354.8Z" fill="#800080" stroke="#000" stroke-width="0.7"/>
<path d="M1505.8 1362.4L1508.6 1356.8L1503 1356.8Z" fill="#800080" stroke="#000" stroke-width="0.7"/>
</g>
<path d="M1229.6 1101.4H1268.3" stroke="#ff0000" stroke-width="1.3"/>
<path d="M1248.95 1097.2L1251.25 1101.4L1248.95 1105.6L1246.65 1101.4Z" fill="#ff0000" stroke="#000" stroke-width="0.7"/>
<text transform="translate(1282.4,1108.1) scale(1,1.035)" class="t">SDNE</text>
<path d="M1229.6 1128.65H1268.3" stroke="#0000ff" stroke-width="1.3"/>
<path d="M1245.85 1128.65H1252.05M1248.95 1125.55V1131.75" stroke="#0000ff" stroke-width="1.1" fill="none"/>
<text transform="translate(1282.4,1135.35) scale(1,1.035)" class="t">DeepWalk</text>
<path d="M1229.6 1155.9H1268.3" stroke="#008000" stroke-width="1.3"/>
<circle cx="1248.95" cy="1155.9" r="2.9" fill="#008000" stroke="#000" stroke-width="0.7"/>
<text transform="translate(1282.4,1162.6) scale(1,1.035)" class="t">N2V-S</text>
<path d="M1229.6 1183.15H1268.3" stroke="#ffa500" stroke-width="1.3"/>
<path d="M1248.95 1180.35L1251.75 1185.95L1246.15 1185.95Z" fill="#ffa500" stroke="#000" stroke-width="0.7"/>
<text transform="translate(1282.4,1189.85) scale(1,1.035)" class="t">N2V-H</text>
<path d="M1229.6 1210.4H1268.3" stroke="#800080" stroke-width="1.3"/>
<path d="M1248.95 1213.2L1251.75 1207.6L1246.15 1207.6Z" fill="#800080" stroke="#000" stroke-width="0.7"/>
<text transform="translate(1282.4,1217.1) scale(1,1.035)" class="t">PD</text>
<rect x="1099.9" y="1076.9" width="405.9" height="304" fill="none" stroke="#000" stroke-width="1.3"/>
<text transform="translate(1096.25,1352.22) scale(1,1.035)" class="t" text-anchor="end">0.16</text>
<text transform="translate(1096.25,1284.67) scale(1,1.035)" class="t" text-anchor="end">0.18</text>
<text transform="translate(1096.25,1217.11) scale(1,1.035)" class="t" text-anchor="end">0.20</text>
<text transform="translate(1096.25,1149.56) scale(1,1.035)" class="t" text-anchor="end">0.22</text>
<text transform="translate(1096.25,1082) scale(1,1.035)" class="t" text-anchor="end">0.24</text>
<path d="M1099.9 1380.9V1376.9M1099.9 1076.9V1080.9M1150.64 1380.9V1376.9M1150.64 1076.9V1080.9M1201.38 1380.9V1376.9M1201.38 1076.9V1080.9M1252.11 1380.9V1376.9M1252.11 1076.9V1080.9M1302.85 1380.9V1376.9M1302.85 1076.9V1080.9M1353.59 1380.9V1376.9M1353.59 1076.9V1080.9M1404.33 1380.9V1376.9M1404.33 1076.9V1080.9M1455.06 1380.9V1376.9M1455.06 1076.9V1080.9M1505.8 1380.9V1376.9M1505.8 1076.9V1080.9M1099.9 1347.12H1103.9M1505.8 1347.12H1501.8M1099.9 1279.57H1103.9M1505.8 1279.57H1501.8M1099.9 1212.01H1103.9M1505.8 1212.01H1501.8M1099.9 1144.46H1103.9M1505.8 1144.46H1501.8M1099.9 1076.9H1103.9M1505.8 1076.9H1501.8" stroke="#000" stroke-width="1.0" fill="none"/>
<text transform="translate(1099.9,1399.4) scale(1,1.035)" class="t" text-anchor="middle">0.1</text>
<text transform="translate(1150.64,1399.4) scale(1,1.035)" class="t" text-anchor="middle">0.2</text>
<text transform="translate(1201.38,1399.4) scale(1,1.035)" class="t" text-anchor="middle">0.3</text>
<text transform="translate(1252.11,1399.4) scale(1,1.035)" class="t" text-anchor="middle">0.4</text>
<text transform="translate(1302.85,1399.4) scale(1,1.035)" class="t" text-anchor="middle">0.5</text>
<text transform="translate(1353.59,1399.4) scale(1,1.035)" class="t" text-anchor="middle">0.6</text>
<text transform="translate(1404.33,1399.4) scale(1,1.035)" class="t" text-anchor="middle">0.7</text>
<text transform="translate(1455.06,1399.4) scale(1,1.035)" class="t" text-anchor="middle">0.8</text>
<text transform="translate(1505.8,1399.4) scale(1,1.035)" class="t" text-anchor="middle">0.9</text>
<text x="1088.42" y="1428.2" class="ax" textLength="430.24" lengthAdjust="spacingAndGlyphs">Fraction of Labeled Training Data</text>
<text x="-0.35" y="0" class="ax" textLength="67.92" lengthAdjust="spacingAndGlyphs" transform="translate(1045.1,1262.35) rotate(-90)">Score</text>
<text x="1037.15" y="1505.6" class="capb" textLength="57" lengthAdjust="spacingAndGlyphs">(k)</text>
<text x="1110.09" y="1505.6" class="cap" textLength="368.22" lengthAdjust="spacingAndGlyphs">Macro Bitcoinotc</text>
<clipPath id="clipl"><rect x="1612" y="1076.9" width="405.9" height="304"/></clipPath>
<g clip-path="url(#clipl)">
<path d="M1612 1225L1662.74 1177.6L1713.47 1233.6L1764.21 1241.4L1814.95 1201L1865.69 1178.6L1916.42 1239L1967.16 1245L2017.9 1197.6L2017.9 1293.6L1967.16 1307L1916.42 1355L1865.69 1242.6L1814.95 1269L1764.21 1253.4L1713.47 1351.6L1662.74 1239.6L1612 1305Z" fill="#ff0000" fill-opacity="0.1"/>
<path d="M1612 1261L1662.74 1225L1713.47 1225.4L1764.21 1187L1814.95 1228L1865.69 1179L1916.42 1195L1967.16 1233L2017.9 1169L2017.9 1229L1967.16 1265L1916.42 1227L1865.69 1251L1814.95 1268L1764.21 1221L1713.47 1247.4L1662.74 1249L1612 1321Z" fill="#0000ff" fill-opacity="0.1"/>
<path d="M1612 1230L1662.74 1205.6L1713.47 1203L1764.21 1203.4L1814.95 1215.4L1865.69 1193L1916.42 1124.6L1967.16 1164L2017.9 1141.4L2017.9 1221.4L1967.16 1236L1916.42 1256.6L1865.69 1233L1814.95 1243.4L1764.21 1219.4L1713.47 1229L1662.74 1245.6L1612 1318Z" fill="#008000" fill-opacity="0.1"/>
<path d="M1612 1256.6L1662.74 1215.4L1713.47 1219.4L1764.21 1193.4L1814.95 1186.4L1865.69 1188.6L1916.42 1142.6L1967.16 1152L2017.9 1080L2017.9 1156L1967.16 1324L1916.42 1254.6L1865.69 1256.6L1814.95 1232.4L1764.21 1239.4L1713.47 1247.4L1662.74 1267.4L1612 1296.6Z" fill="#ffa500" fill-opacity="0.1"/>
<path d="M1612 1182L1662.74 1198.4L1713.47 1173.4L1764.21 1199L1814.95 1153.6L1865.69 1146.6L1916.42 1146L1967.16 1193L2017.9 1215L2017.9 1275L1967.16 1265L1916.42 1202L1865.69 1202.6L1814.95 1185.6L1764.21 1211L1713.47 1189.4L1662.74 1210.4L1612 1192Z" fill="#800080" fill-opacity="0.1"/>
<path d="M1612 1265L1662.74 1208.6L1713.47 1292.6L1764.21 1247.4L1814.95 1235L1865.69 1210.6L1916.42 1297L1967.16 1276L2017.9 1245.6" fill="none" stroke="#ff0000" stroke-width="1.25" stroke-linejoin="round"/>
<path d="M1612 1260.8L1614.3 1265L1612 1269.2L1609.7 1265Z" fill="#ff0000" stroke="#000" stroke-width="0.7"/>
<path d="M1662.74 1204.4L1665.04 1208.6L1662.74 1212.8L1660.44 1208.6Z" fill="#ff0000" stroke="#000" stroke-width="0.7"/>
<path d="M1713.47 1288.4L1715.77 1292.6L1713.47 1296.8L1711.17 1292.6Z" fill="#ff0000" stroke="#000" stroke-width="0.7"/>
<path d="M1764.21 1243.2L1766.51 1247.4L1764.21 1251.6L1761.91 1247.4Z" fill="#ff0000" stroke="#000" stroke-width="0.7"/>
<path d="M1814.95 1230.8L1817.25 1235L1814.95 1239.2L1812.65 1235Z" fill="#ff0000" stroke="#000" stroke-width="0.7"/>
<path d="M1865.69 1206.4L1867.99 1210.6L1865.69 1214.8L1863.39 1210.6Z" fill="#ff0000" stroke="#000" stroke-width="0.7"/>
<path d="M1916.42 1292.8L1918.72 1297L1916.42 1301.2L1914.12 1297Z" fill="#ff0000" stroke="#000" stroke-width="0.7"/>
<path d="M1967.16 1271.8L1969.46 1276L1967.16 1280.2L1964.86 1276Z" fill="#ff0000" stroke="#000" stroke-width="0.7"/>
<path d="M2017.9 1241.4L2020.2 1245.6L2017.9 1249.8L2015.6 1245.6Z" fill="#ff0000" stroke="#000" stroke-width="0.7"/>
<path d="M1612 1291L1662.74 1237L1713.47 1236.4L1764.21 1204L1814.95 1248L1865.69 1215L1916.42 1211L1967.16 1249L2017.9 1199" fill="none" stroke="#0000ff" stroke-width="1.25" stroke-linejoin="round"/>
<path d="M1608.9 1291H1615.1M1612 1287.9V1294.1" stroke="#0000ff" stroke-width="1.1" fill="none"/>
<path d="M1659.64 1237H1665.84M1662.74 1233.9V1240.1" stroke="#0000ff" stroke-width="1.1" fill="none"/>
<path d="M1710.38 1236.4H1716.57M1713.47 1233.3V1239.5" stroke="#0000ff" stroke-width="1.1" fill="none"/>
<path d="M1761.11 1204H1767.31M1764.21 1200.9V1207.1" stroke="#0000ff" stroke-width="1.1" fill="none"/>
<path d="M1811.85 1248H1818.05M1814.95 1244.9V1251.1" stroke="#0000ff" stroke-width="1.1" fill="none"/>
<path d="M1862.59 1215H1868.79M1865.69 1211.9V1218.1" stroke="#0000ff" stroke-width="1.1" fill="none"/>
<path d="M1913.33 1211H1919.52M1916.42 1207.9V1214.1" stroke="#0000ff" stroke-width="1.1" fill="none"/>
<path d="M1964.06 1249H1970.26M1967.16 1245.9V1252.1" stroke="#0000ff" stroke-width="1.1" fill="none"/>
<path d="M2014.8 1199H2021M2017.9 1195.9V1202.1" stroke="#0000ff" stroke-width="1.1" fill="none"/>
<path d="M1612 1274L1662.74 1225.6L1713.47 1216L1764.21 1211.4L1814.95 1229.4L1865.69 1213L1916.42 1190.6L1967.16 1200L2017.9 1181.4" fill="none" stroke="#008000" stroke-width="1.25" stroke-linejoin="round"/>
<circle cx="1612" cy="1274" r="2.9" fill="#008000" stroke="#000" stroke-width="0.7"/>
<circle cx="1662.74" cy="1225.6" r="2.9" fill="#008000" stroke="#000" stroke-width="0.7"/>
<circle cx="1713.47" cy="1216" r="2.9" fill="#008000" stroke="#000" stroke-width="0.7"/>
<circle cx="1764.21" cy="1211.4" r="2.9" fill="#008000" stroke="#000" stroke-width="0.7"/>
<circle cx="1814.95" cy="1229.4" r="2.9" fill="#008000" stroke="#000" stroke-width="0.7"/>
<circle cx="1865.69" cy="1213" r="2.9" fill="#008000" stroke="#000" stroke-width="0.7"/>
<circle cx="1916.42" cy="1190.6" r="2.9" fill="#008000" stroke="#000" stroke-width="0.7"/>
<circle cx="1967.16" cy="1200" r="2.9" fill="#008000" stroke="#000" stroke-width="0.7"/>
<circle cx="2017.9" cy="1181.4" r="2.9" fill="#008000" stroke="#000" stroke-width="0.7"/>
<path d="M1612 1276.6L1662.74 1241.4L1713.47 1233.4L1764.21 1216.4L1814.95 1209.4L1865.69 1222.6L1916.42 1198.6L1967.16 1238L2017.9 1118" fill="none" stroke="#ffa500" stroke-width="1.25" stroke-linejoin="round"/>
<path d="M1612 1273.8L1614.8 1279.4L1609.2 1279.4Z" fill="#ffa500" stroke="#000" stroke-width="0.7"/>
<path d="M1662.74 1238.6L1665.54 1244.2L1659.94 1244.2Z" fill="#ffa500" stroke="#000" stroke-width="0.7"/>
<path d="M1713.47 1230.6L1716.27 1236.2L1710.67 1236.2Z" fill="#ffa500" stroke="#000" stroke-width="0.7"/>
<path d="M1764.21 1213.6L1767.01 1219.2L1761.41 1219.2Z" fill="#ffa500" stroke="#000" stroke-width="0.7"/>
<path d="M1814.95 1206.6L1817.75 1212.2L1812.15 1212.2Z" fill="#ffa500" stroke="#000" stroke-width="0.7"/>
<path d="M1865.69 1219.8L1868.49 1225.4L1862.89 1225.4Z" fill="#ffa500" stroke="#000" stroke-width="0.7"/>
<path d="M1916.42 1195.8L1919.22 1201.4L1913.62 1201.4Z" fill="#ffa500" stroke="#000" stroke-width="0.7"/>
<path d="M1967.16 1235.2L1969.96 1240.8L1964.36 1240.8Z" fill="#ffa500" stroke="#000" stroke-width="0.7"/>
<path d="M2017.9 1115.2L2020.7 1120.8L2015.1 1120.8Z" fill="#ffa500" stroke="#000" stroke-width="0.7"/>
<path d="M1612 1187L1662.74 1204.4L1713.47 1181.4L1764.21 1205L1814.95 1169.6L1865.69 1174.6L1916.42 1174L1967.16 1229L2017.9 1245" fill="none" stroke="#800080" stroke-width="1.25" stroke-linejoin="round"/>
<path d="M1612 1189.8L1614.8 1184.2L1609.2 1184.2Z" fill="#800080" stroke="#000" stroke-width="0.7"/>
<path d="M1662.74 1207.2L1665.54 1201.6L1659.94 1201.6Z" fill="#800080" stroke="#000" stroke-width="0.7"/>
<path d="M1713.47 1184.2L1716.27 1178.6L1710.67 1178.6Z" fill="#800080" stroke="#000" stroke-width="0.7"/>
<path d="M1764.21 1207.8L1767.01 1202.2L1761.41 1202.2Z" fill="#800080" stroke="#000" stroke-width="0.7"/>
<path d="M1814.95 1172.4L1817.75 1166.8L1812.15 1166.8Z" fill="#800080" stroke="#000" stroke-width="0.7"/>
<path d="M1865.69 1177.4L1868.49 1171.8L1862.89 1171.8Z" fill="#800080" stroke="#000" stroke-width="0.7"/>
<path d="M1916.42 1176.8L1919.22 1171.2L1913.62 1171.2Z" fill="#800080" stroke="#000" stroke-width="0.7"/>
<path d="M1967.16 1231.8L1969.96 1226.2L1964.36 1226.2Z" fill="#800080" stroke="#000" stroke-width="0.7"/>
<path d="M2017.9 1247.8L2020.7 1242.2L2015.1 1242.2Z" fill="#800080" stroke="#000" stroke-width="0.7"/>
</g>
<path d="M1741.8 1244.6H1780.5" stroke="#ff0000" stroke-width="1.3"/>
<path d="M1761.15 1240.4L1763.45 1244.6L1761.15 1248.8L1758.85 1244.6Z" fill="#ff0000" stroke="#000" stroke-width="0.7"/>
<text transform="translate(1794.6,1251.3) scale(1,1.035)" class="t">SDNE</text>
<path d="M1741.8 1271.85H1780.5" stroke="#0000ff" stroke-width="1.3"/>
<path d="M1758.05 1271.85H1764.25M1761.15 1268.75V1274.95" stroke="#0000ff" stroke-width="1.1" fill="none"/>
<text transform="translate(1794.6,1278.55) scale(1,1.035)" class="t">DeepWalk</text>
<path d="M1741.8 1299.1H1780.5" stroke="#008000" stroke-width="1.3"/>
<circle cx="1761.15" cy="1299.1" r="2.9" fill="#008000" stroke="#000" stroke-width="0.7"/>
<text transform="translate(1794.6,1305.8) scale(1,1.035)" class="t">N2V-S</text>
<path d="M1741.8 1326.35H1780.5" stroke="#ffa500" stroke-width="1.3"/>
<path d="M1761.15 1323.55L1763.95 1329.15L1758.35 1329.15Z" fill="#ffa500" stroke="#000" stroke-width="0.7"/>
<text transform="translate(1794.6,1333.05) scale(1,1.035)" class="t">N2V-H</text>
<path d="M1741.8 1353.6H1780.5" stroke="#800080" stroke-width="1.3"/>
<path d="M1761.15 1356.4L1763.95 1350.8L1758.35 1350.8Z" fill="#800080" stroke="#000" stroke-width="0.7"/>
<text transform="translate(1794.6,1360.3) scale(1,1.035)" class="t">PD</text>
<rect x="1612" y="1076.9" width="405.9" height="304" fill="none" stroke="#000" stroke-width="1.3"/>
<text transform="translate(1608.35,1386) scale(1,1.035)" class="t" text-anchor="end">0.61</text>
<text transform="translate(1608.35,1342.57) scale(1,1.035)" class="t" text-anchor="end">0.62</text>
<text transform="translate(1608.35,1299.14) scale(1,1.035)" class="t" text-anchor="end">0.63</text>
<text transform="translate(1608.35,1255.71) scale(1,1.035)" class="t" text-anchor="end">0.64</text>
<text transform="translate(1608.35,1212.29) scale(1,1.035)" class="t" text-anchor="end">0.65</text>
<text transform="translate(1608.35,1168.86) scale(1,1.035)" class="t" text-anchor="end">0.66</text>
<text transform="translate(1608.35,1125.43) scale(1,1.035)" class="t" text-anchor="end">0.67</text>
<text transform="translate(1608.35,1082) scale(1,1.035)" class="t" text-anchor="end">0.68</text>
<path d="M1612 1380.9V1376.9M1612 1076.9V1080.9M1662.74 1380.9V1376.9M1662.74 1076.9V1080.9M1713.47 1380.9V1376.9M1713.47 1076.9V1080.9M1764.21 1380.9V1376.9M1764.21 1076.9V1080.9M1814.95 1380.9V1376.9M1814.95 1076.9V1080.9M1865.69 1380.9V1376.9M1865.69 1076.9V1080.9M1916.42 1380.9V1376.9M1916.42 1076.9V1080.9M1967.16 1380.9V1376.9M1967.16 1076.9V1080.9M2017.9 1380.9V1376.9M2017.9 1076.9V1080.9M1612 1380.9H1616M2017.9 1380.9H2013.9M1612 1337.47H1616M2017.9 1337.47H2013.9M1612 1294.04H1616M2017.9 1294.04H2013.9M1612 1250.61H1616M2017.9 1250.61H2013.9M1612 1207.19H1616M2017.9 1207.19H2013.9M1612 1163.76H1616M2017.9 1163.76H2013.9M1612 1120.33H1616M2017.9 1120.33H2013.9M1612 1076.9H1616M2017.9 1076.9H2013.9" stroke="#000" stroke-width="1.0" fill="none"/>
<text transform="translate(1612,1399.4) scale(1,1.035)" class="t" text-anchor="middle">0.1</text>
<text transform="translate(1662.74,1399.4) scale(1,1.035)" class="t" text-anchor="middle">0.2</text>
<text transform="translate(1713.47,1399.4) scale(1,1.035)" class="t" text-anchor="middle">0.3</text>
<text transform="translate(1764.21,1399.4) scale(1,1.035)" class="t" text-anchor="middle">0.4</text>
<text transform="translate(1814.95,1399.4) scale(1,1.035)" class="t" text-anchor="middle">0.5</text>
<text transform="translate(1865.69,1399.4) scale(1,1.035)" class="t" text-anchor="middle">0.6</text>
<text transform="translate(1916.42,1399.4) scale(1,1.035)" class="t" text-anchor="middle">0.7</text>
<text transform="translate(1967.16,1399.4) scale(1,1.035)" class="t" text-anchor="middle">0.8</text>
<text transform="translate(2017.9,1399.4) scale(1,1.035)" class="t" text-anchor="middle">0.9</text>
<text x="1600.52" y="1428.2" class="ax" textLength="430.24" lengthAdjust="spacingAndGlyphs">Fraction of Labeled Training Data</text>
<text x="-0.35" y="0" class="ax" textLength="67.92" lengthAdjust="spacingAndGlyphs" transform="translate(1557.2,1262.35) rotate(-90)">Score</text>
<text x="1561.63" y="1505.6" class="capb" textLength="44.55" lengthAdjust="spacingAndGlyphs">(l)</text>
<text x="1621.8" y="1505.6" class="cap" textLength="357.61" lengthAdjust="spacingAndGlyphs">Micro Bitcoinotc</text>
</svg></body></html>
